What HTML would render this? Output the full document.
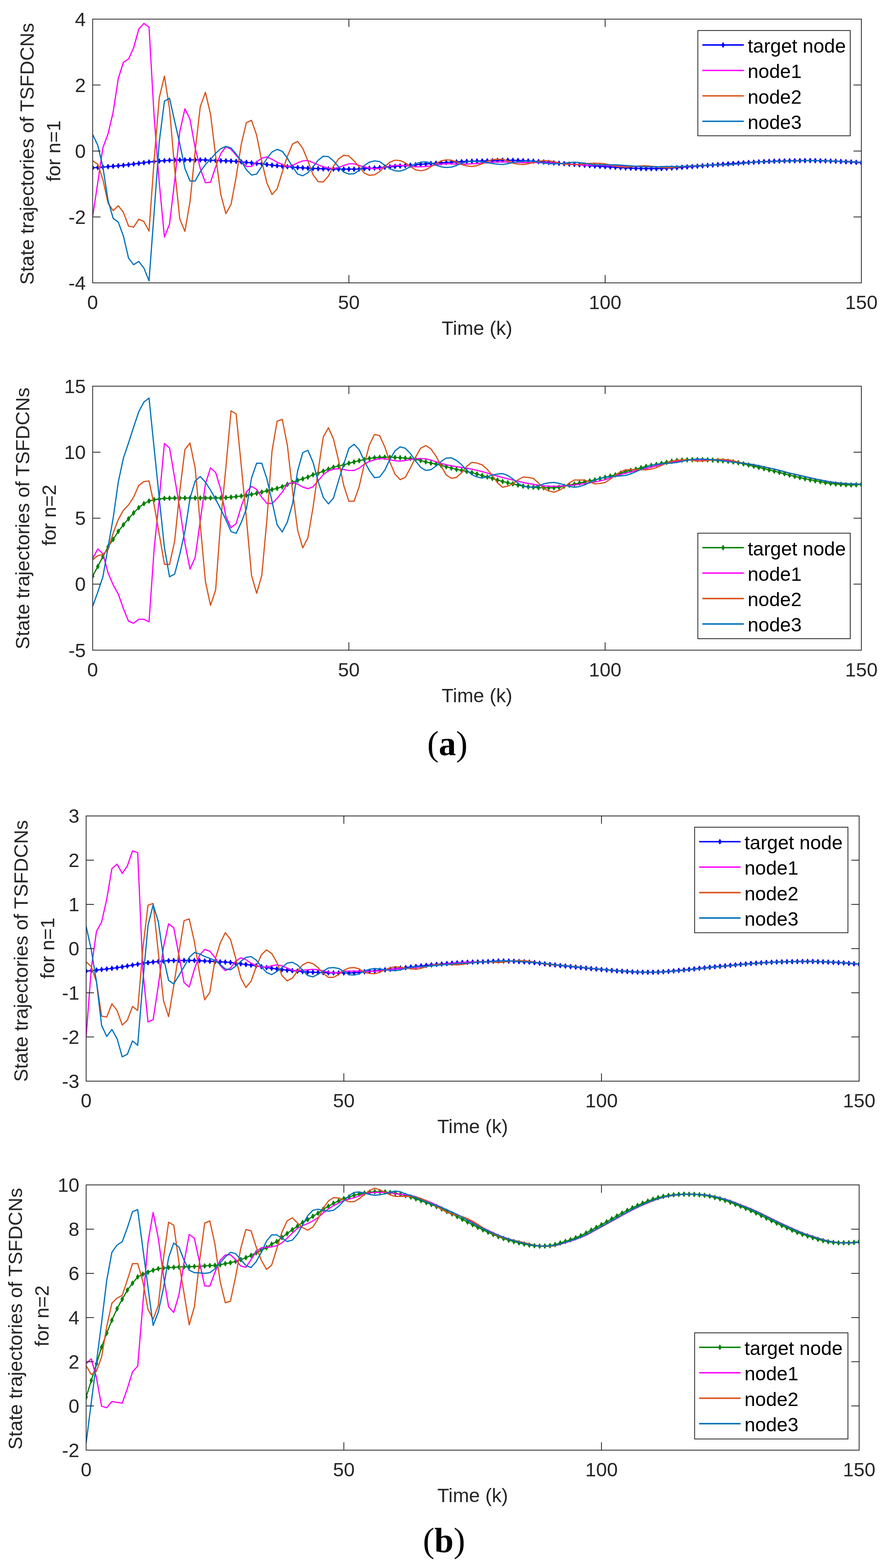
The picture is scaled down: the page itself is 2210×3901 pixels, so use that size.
<!DOCTYPE html>
<html><head><meta charset="utf-8"><title>State trajectories of TSFDCNs</title>
<style>
html,body{margin:0;padding:0;background:#fff;}
body{width:2210px;height:3901px;overflow:hidden;}
svg{display:block;}
.t{font-family:"Liberation Sans", Arial, Helvetica, sans-serif;font-size:48.5px;fill:#262626;}
.lg{font-family:"Liberation Sans", Arial, Helvetica, sans-serif;font-size:48.3px;fill:#000;}
.cap{font-family:"Liberation Serif", "Times New Roman", serif;font-size:86px;font-weight:bold;fill:#000;}
.par{font-weight:normal;}
</style></head><body>
<svg width="2210" height="3901" viewBox="0 0 2210 3901">
<rect x="0" y="0" width="2210" height="3901" fill="#ffffff"/>
<clipPath id="c0"><rect x="230.6" y="47.6" width="1913.1" height="656.1"/></clipPath>
<g clip-path="url(#c0)" fill="none" stroke-linejoin="round" stroke-linecap="butt">
<polyline points="230.6,417.5 243.4,416.7 256.1,415.7 268.9,414.6 281.6,413.5 294.4,412.4 307.1,411.2 319.9,409.7 332.6,408.0 345.4,406.4 358.1,404.8 370.9,403.1 383.6,401.9 396.4,400.7 409.2,399.7 421.9,398.8 434.7,398.2 447.4,397.9 460.2,397.8 472.9,397.8 485.7,397.8 498.4,397.8 511.2,398.1 523.9,398.6 536.7,399.2 549.5,399.8 562.2,400.2 575.0,400.7 587.7,401.6 600.5,402.7 613.2,403.9 626.0,405.2 638.7,406.4 651.5,407.6 664.2,409.3 677.0,410.9 689.7,412.2 702.5,413.4 715.3,414.7 728.0,415.8 740.8,416.7 753.5,417.5 766.3,418.4 779.0,419.1 791.8,419.6 804.5,419.9 817.3,420.3 830.0,420.6 842.8,420.8 855.5,420.8 868.3,420.8 881.1,420.8 893.8,420.4 906.6,419.6 919.3,418.7 932.1,417.9 944.8,417.0 957.6,416.0 970.3,415.0 983.1,414.0 995.8,413.0 1008.6,412.0 1021.3,410.9 1034.1,409.9 1046.9,408.8 1059.6,407.8 1072.4,406.8 1085.1,405.9 1097.9,405.1 1110.6,404.3 1123.4,403.5 1136.1,402.8 1148.9,402.2 1161.6,401.6 1174.4,401.1 1187.1,400.7 1199.9,400.5 1212.7,400.2 1225.4,399.8 1238.2,399.1 1250.9,398.6 1263.7,398.7 1276.4,399.0 1289.2,399.3 1301.9,399.8 1314.7,400.3 1327.4,400.9 1340.2,401.9 1353.0,403.0 1365.7,404.1 1378.5,405.2 1391.2,406.2 1404.0,407.2 1416.7,408.2 1429.5,409.1 1442.2,410.1 1455.0,411.0 1467.7,412.0 1480.5,412.9 1493.2,413.8 1506.0,414.6 1518.8,415.4 1531.5,416.2 1544.3,417.0 1557.0,417.7 1569.8,418.3 1582.5,418.8 1595.3,419.3 1608.0,419.5 1620.8,419.5 1633.5,419.5 1646.3,419.3 1659.0,418.7 1671.8,418.0 1684.6,417.2 1697.3,416.2 1710.1,415.3 1722.8,414.4 1735.6,413.4 1748.3,412.4 1761.1,411.4 1773.8,410.5 1786.6,409.5 1799.3,408.6 1812.1,407.7 1824.8,406.8 1837.6,405.9 1850.4,405.0 1863.1,404.2 1875.9,403.4 1888.6,402.7 1901.4,402.1 1914.1,401.5 1926.9,401.0 1939.6,400.5 1952.4,400.3 1965.1,400.1 1977.9,399.9 1990.7,399.7 2003.4,399.6 2016.2,399.6 2028.9,399.7 2041.7,400.0 2054.4,400.3 2067.2,400.8 2079.9,401.2 2092.7,401.7 2105.4,402.4 2118.2,403.1 2130.9,403.9 2143.7,404.8" stroke="#0000ff" stroke-width="3"/>
<path d="M230.6 411.4L234.2 417.5L230.6 423.6L227.0 417.5ZM243.4 410.6L247.0 416.7L243.4 422.8L239.8 416.7ZM256.1 409.6L259.7 415.7L256.1 421.8L252.5 415.7ZM268.9 408.5L272.5 414.6L268.9 420.7L265.3 414.6ZM281.6 407.4L285.2 413.5L281.6 419.6L278.0 413.5ZM294.4 406.3L298.0 412.4L294.4 418.5L290.8 412.4ZM307.1 405.1L310.7 411.2L307.1 417.3L303.5 411.2ZM319.9 403.6L323.5 409.7L319.9 415.8L316.3 409.7ZM332.6 401.9L336.2 408.0L332.6 414.1L329.0 408.0ZM345.4 400.3L349.0 406.4L345.4 412.5L341.8 406.4ZM358.1 398.7L361.7 404.8L358.1 410.9L354.5 404.8ZM370.9 397.0L374.5 403.1L370.9 409.2L367.3 403.1ZM383.6 395.8L387.2 401.9L383.6 408.0L380.0 401.9ZM396.4 394.6L400.0 400.7L396.4 406.8L392.8 400.7ZM409.2 393.6L412.8 399.7L409.2 405.8L405.6 399.7ZM421.9 392.7L425.5 398.8L421.9 404.9L418.3 398.8ZM434.7 392.1L438.3 398.2L434.7 404.3L431.1 398.2ZM447.4 391.8L451.0 397.9L447.4 404.0L443.8 397.9ZM460.2 391.7L463.8 397.8L460.2 403.9L456.6 397.8ZM472.9 391.7L476.5 397.8L472.9 403.9L469.3 397.8ZM485.7 391.7L489.3 397.8L485.7 403.9L482.1 397.8ZM498.4 391.7L502.0 397.8L498.4 403.9L494.8 397.8ZM511.2 392.0L514.8 398.1L511.2 404.2L507.6 398.1ZM523.9 392.5L527.5 398.6L523.9 404.7L520.3 398.6ZM536.7 393.1L540.3 399.2L536.7 405.3L533.1 399.2ZM549.5 393.7L553.1 399.8L549.5 405.9L545.9 399.8ZM562.2 394.1L565.8 400.2L562.2 406.3L558.6 400.2ZM575.0 394.6L578.6 400.7L575.0 406.8L571.4 400.7ZM587.7 395.5L591.3 401.6L587.7 407.7L584.1 401.6ZM600.5 396.6L604.1 402.7L600.5 408.8L596.9 402.7ZM613.2 397.8L616.8 403.9L613.2 410.0L609.6 403.9ZM626.0 399.1L629.6 405.2L626.0 411.3L622.4 405.2ZM638.7 400.3L642.3 406.4L638.7 412.5L635.1 406.4ZM651.5 401.5L655.1 407.6L651.5 413.7L647.9 407.6ZM664.2 403.2L667.8 409.3L664.2 415.4L660.6 409.3ZM677.0 404.8L680.6 410.9L677.0 417.0L673.4 410.9ZM689.7 406.1L693.3 412.2L689.7 418.3L686.1 412.2ZM702.5 407.3L706.1 413.4L702.5 419.5L698.9 413.4ZM715.3 408.6L718.9 414.7L715.3 420.8L711.7 414.7ZM728.0 409.7L731.6 415.8L728.0 421.9L724.4 415.8ZM740.8 410.6L744.4 416.7L740.8 422.8L737.2 416.7ZM753.5 411.4L757.1 417.5L753.5 423.6L749.9 417.5ZM766.3 412.3L769.9 418.4L766.3 424.5L762.7 418.4ZM779.0 413.0L782.6 419.1L779.0 425.2L775.4 419.1ZM791.8 413.5L795.4 419.6L791.8 425.7L788.2 419.6ZM804.5 413.8L808.1 419.9L804.5 426.0L800.9 419.9ZM817.3 414.2L820.9 420.3L817.3 426.4L813.7 420.3ZM830.0 414.5L833.6 420.6L830.0 426.7L826.4 420.6ZM842.8 414.7L846.4 420.8L842.8 426.9L839.2 420.8ZM855.5 414.7L859.1 420.8L855.5 426.9L851.9 420.8ZM868.3 414.7L871.9 420.8L868.3 426.9L864.7 420.8ZM881.1 414.7L884.7 420.8L881.1 426.9L877.5 420.8ZM893.8 414.3L897.4 420.4L893.8 426.5L890.2 420.4ZM906.6 413.5L910.2 419.6L906.6 425.7L903.0 419.6ZM919.3 412.6L922.9 418.7L919.3 424.8L915.7 418.7ZM932.1 411.8L935.7 417.9L932.1 424.0L928.5 417.9ZM944.8 410.9L948.4 417.0L944.8 423.1L941.2 417.0ZM957.6 409.9L961.2 416.0L957.6 422.1L954.0 416.0ZM970.3 408.9L973.9 415.0L970.3 421.1L966.7 415.0ZM983.1 407.9L986.7 414.0L983.1 420.1L979.5 414.0ZM995.8 406.9L999.4 413.0L995.8 419.1L992.2 413.0ZM1008.6 405.9L1012.2 412.0L1008.6 418.1L1005.0 412.0ZM1021.3 404.8L1024.9 410.9L1021.3 417.0L1017.7 410.9ZM1034.1 403.8L1037.7 409.9L1034.1 416.0L1030.5 409.9ZM1046.9 402.7L1050.5 408.8L1046.9 414.9L1043.3 408.8ZM1059.6 401.7L1063.2 407.8L1059.6 413.9L1056.0 407.8ZM1072.4 400.7L1076.0 406.8L1072.4 412.9L1068.8 406.8ZM1085.1 399.8L1088.7 405.9L1085.1 412.0L1081.5 405.9ZM1097.9 399.0L1101.5 405.1L1097.9 411.2L1094.3 405.1ZM1110.6 398.2L1114.2 404.3L1110.6 410.4L1107.0 404.3ZM1123.4 397.4L1127.0 403.5L1123.4 409.6L1119.8 403.5ZM1136.1 396.7L1139.7 402.8L1136.1 408.9L1132.5 402.8ZM1148.9 396.1L1152.5 402.2L1148.9 408.3L1145.3 402.2ZM1161.6 395.5L1165.2 401.6L1161.6 407.7L1158.0 401.6ZM1174.4 395.0L1178.0 401.1L1174.4 407.2L1170.8 401.1ZM1187.1 394.6L1190.7 400.7L1187.1 406.8L1183.5 400.7ZM1199.9 394.4L1203.5 400.5L1199.9 406.6L1196.3 400.5ZM1212.7 394.1L1216.3 400.2L1212.7 406.3L1209.1 400.2ZM1225.4 393.7L1229.0 399.8L1225.4 405.9L1221.8 399.8ZM1238.2 393.0L1241.8 399.1L1238.2 405.2L1234.6 399.1ZM1250.9 392.5L1254.5 398.6L1250.9 404.7L1247.3 398.6ZM1263.7 392.6L1267.3 398.7L1263.7 404.8L1260.1 398.7ZM1276.4 392.9L1280.0 399.0L1276.4 405.1L1272.8 399.0ZM1289.2 393.2L1292.8 399.3L1289.2 405.4L1285.6 399.3ZM1301.9 393.7L1305.5 399.8L1301.9 405.9L1298.3 399.8ZM1314.7 394.2L1318.3 400.3L1314.7 406.4L1311.1 400.3ZM1327.4 394.8L1331.0 400.9L1327.4 407.0L1323.8 400.9ZM1340.2 395.8L1343.8 401.9L1340.2 408.0L1336.6 401.9ZM1353.0 396.9L1356.6 403.0L1353.0 409.1L1349.4 403.0ZM1365.7 398.0L1369.3 404.1L1365.7 410.2L1362.1 404.1ZM1378.5 399.1L1382.1 405.2L1378.5 411.3L1374.9 405.2ZM1391.2 400.1L1394.8 406.2L1391.2 412.3L1387.6 406.2ZM1404.0 401.1L1407.6 407.2L1404.0 413.3L1400.4 407.2ZM1416.7 402.1L1420.3 408.2L1416.7 414.3L1413.1 408.2ZM1429.5 403.0L1433.1 409.1L1429.5 415.2L1425.9 409.1ZM1442.2 404.0L1445.8 410.1L1442.2 416.2L1438.6 410.1ZM1455.0 404.9L1458.6 411.0L1455.0 417.1L1451.4 411.0ZM1467.7 405.9L1471.3 412.0L1467.7 418.1L1464.1 412.0ZM1480.5 406.8L1484.1 412.9L1480.5 419.0L1476.9 412.9ZM1493.2 407.7L1496.8 413.8L1493.2 419.9L1489.6 413.8ZM1506.0 408.5L1509.6 414.6L1506.0 420.7L1502.4 414.6ZM1518.8 409.3L1522.4 415.4L1518.8 421.5L1515.2 415.4ZM1531.5 410.1L1535.1 416.2L1531.5 422.3L1527.9 416.2ZM1544.3 410.9L1547.9 417.0L1544.3 423.1L1540.7 417.0ZM1557.0 411.6L1560.6 417.7L1557.0 423.8L1553.4 417.7ZM1569.8 412.2L1573.4 418.3L1569.8 424.4L1566.2 418.3ZM1582.5 412.7L1586.1 418.8L1582.5 424.9L1578.9 418.8ZM1595.3 413.2L1598.9 419.3L1595.3 425.4L1591.7 419.3ZM1608.0 413.4L1611.6 419.5L1608.0 425.6L1604.4 419.5ZM1620.8 413.4L1624.4 419.5L1620.8 425.6L1617.2 419.5ZM1633.5 413.4L1637.1 419.5L1633.5 425.6L1629.9 419.5ZM1646.3 413.2L1649.9 419.3L1646.3 425.4L1642.7 419.3ZM1659.0 412.6L1662.6 418.7L1659.0 424.8L1655.4 418.7ZM1671.8 411.9L1675.4 418.0L1671.8 424.1L1668.2 418.0ZM1684.6 411.1L1688.2 417.2L1684.6 423.3L1681.0 417.2ZM1697.3 410.1L1700.9 416.2L1697.3 422.3L1693.7 416.2ZM1710.1 409.2L1713.7 415.3L1710.1 421.4L1706.5 415.3ZM1722.8 408.3L1726.4 414.4L1722.8 420.5L1719.2 414.4ZM1735.6 407.3L1739.2 413.4L1735.6 419.5L1732.0 413.4ZM1748.3 406.3L1751.9 412.4L1748.3 418.5L1744.7 412.4ZM1761.1 405.3L1764.7 411.4L1761.1 417.5L1757.5 411.4ZM1773.8 404.4L1777.4 410.5L1773.8 416.6L1770.2 410.5ZM1786.6 403.4L1790.2 409.5L1786.6 415.6L1783.0 409.5ZM1799.3 402.5L1802.9 408.6L1799.3 414.7L1795.7 408.6ZM1812.1 401.6L1815.7 407.7L1812.1 413.8L1808.5 407.7ZM1824.8 400.7L1828.4 406.8L1824.8 412.9L1821.2 406.8ZM1837.6 399.8L1841.2 405.9L1837.6 412.0L1834.0 405.9ZM1850.4 398.9L1854.0 405.0L1850.4 411.1L1846.8 405.0ZM1863.1 398.1L1866.7 404.2L1863.1 410.3L1859.5 404.2ZM1875.9 397.3L1879.5 403.4L1875.9 409.5L1872.3 403.4ZM1888.6 396.6L1892.2 402.7L1888.6 408.8L1885.0 402.7ZM1901.4 396.0L1905.0 402.1L1901.4 408.2L1897.8 402.1ZM1914.1 395.4L1917.7 401.5L1914.1 407.6L1910.5 401.5ZM1926.9 394.9L1930.5 401.0L1926.9 407.1L1923.3 401.0ZM1939.6 394.4L1943.2 400.5L1939.6 406.6L1936.0 400.5ZM1952.4 394.2L1956.0 400.3L1952.4 406.4L1948.8 400.3ZM1965.1 394.0L1968.7 400.1L1965.1 406.2L1961.5 400.1ZM1977.9 393.8L1981.5 399.9L1977.9 406.0L1974.3 399.9ZM1990.7 393.6L1994.3 399.7L1990.7 405.8L1987.1 399.7ZM2003.4 393.5L2007.0 399.6L2003.4 405.7L1999.8 399.6ZM2016.2 393.5L2019.8 399.6L2016.2 405.7L2012.6 399.6ZM2028.9 393.6L2032.5 399.7L2028.9 405.8L2025.3 399.7ZM2041.7 393.9L2045.3 400.0L2041.7 406.1L2038.1 400.0ZM2054.4 394.2L2058.0 400.3L2054.4 406.4L2050.8 400.3ZM2067.2 394.7L2070.8 400.8L2067.2 406.9L2063.6 400.8ZM2079.9 395.1L2083.5 401.2L2079.9 407.3L2076.3 401.2ZM2092.7 395.6L2096.3 401.7L2092.7 407.8L2089.1 401.7ZM2105.4 396.3L2109.0 402.4L2105.4 408.5L2101.8 402.4ZM2118.2 397.0L2121.8 403.1L2118.2 409.2L2114.6 403.1ZM2130.9 397.8L2134.5 403.9L2130.9 410.0L2127.3 403.9ZM2143.7 398.7L2147.3 404.8L2143.7 410.9L2140.1 404.8Z" fill="#0000ff" stroke="#0000ff" stroke-width="1.5"/>
<polyline points="230.6,538.9 243.4,453.6 256.1,367.4 268.9,333.0 281.6,278.9 294.4,195.2 307.1,155.0 319.9,146.8 332.6,119.0 345.4,72.2 358.1,58.3 370.9,67.3 383.6,290.4 396.4,455.2 409.2,589.7 421.9,557.7 434.7,449.5 447.4,328.1 460.2,270.7 472.9,296.9 485.7,368.3 498.4,419.1 511.2,454.4 523.9,453.6 536.7,415.0 549.5,382.2 562.2,365.0 575.0,371.5 587.7,386.3 600.5,401.1 613.2,414.2 626.0,414.2 638.7,402.7 651.5,393.7 664.2,390.4 677.0,396.2 689.7,403.5 702.5,409.3 715.3,414.2 728.0,411.7 740.8,405.2 753.5,400.3 766.3,399.4 779.0,404.4 791.8,410.1 804.5,415.0 817.3,418.3 830.0,419.1 842.8,416.7 855.5,411.7 868.3,407.6 881.1,407.6 893.8,411.7 906.6,415.0 919.3,418.3 932.1,419.9 944.8,419.1 957.6,415.8 970.3,413.4 983.1,411.7 995.8,410.9 1008.6,411.7 1021.3,413.4 1034.1,415.0 1046.9,415.0 1059.6,414.2 1072.4,412.6 1085.1,410.1 1097.9,408.5 1110.6,407.6 1123.4,407.6 1136.1,408.5 1148.9,408.5 1161.6,408.2 1174.4,407.6 1187.1,406.9 1199.9,406.0 1212.7,404.7 1225.4,403.5 1238.2,403.0 1250.9,402.7 1263.7,403.0 1276.4,403.5 1289.2,404.0 1301.9,404.4 1314.7,404.4 1327.4,404.4 1340.2,404.4 1353.0,404.4 1365.7,405.0 1378.5,406.0 1391.2,406.8 1404.0,407.6 1416.7,408.5 1429.5,409.3 1442.2,410.3 1455.0,410.9 1467.7,410.9 1480.5,410.9 1493.2,411.2 1506.0,411.7 1518.8,412.1 1531.5,412.6 1544.3,413.0 1557.0,413.4 1569.8,413.8 1582.5,414.2 1595.3,414.6 1608.0,415.0 1620.8,415.5 1633.5,415.8 1646.3,415.8 1659.0,415.8 1671.8,415.5 1684.6,415.0 1697.3,414.6 1710.1,414.2 1722.8,413.4 1735.6,412.6 1748.3,411.7 1761.1,410.9 1773.8,410.3 1786.6,410.1 1799.3,409.9 1812.1,409.4 1824.8,408.7 1837.6,407.5 1850.4,406.2 1863.1,404.8 1875.9,403.6 1888.6,402.8 1901.4,402.2 1914.1,401.9 1926.9,401.7 1939.6,401.3 1952.4,401.0 1965.1,400.6 1977.9,400.2 1990.7,399.8 2003.4,399.5 2016.2,399.4 2028.9,399.4 2041.7,399.6 2054.4,400.0 2067.2,400.5 2079.9,401.0 2092.7,401.4 2105.4,401.8 2118.2,402.3 2130.9,403.0 2143.7,403.8" stroke="#ff00ff" stroke-width="3"/>
<polyline points="230.6,400.3 243.4,408.5 256.1,447.0 268.9,505.2 281.6,524.1 294.4,511.8 307.1,528.2 319.9,562.6 332.6,565.1 345.4,545.4 358.1,551.2 370.9,574.9 383.6,397.8 396.4,242.8 409.2,189.5 421.9,270.7 434.7,420.8 447.4,544.6 460.2,575.8 472.9,501.9 485.7,375.7 498.4,265.8 511.2,229.7 523.9,283.8 536.7,388.0 549.5,483.9 562.2,531.5 575.0,508.5 587.7,440.4 600.5,358.4 613.2,305.1 626.0,299.4 638.7,336.3 651.5,401.1 664.2,455.2 677.0,483.9 689.7,470.0 702.5,428.1 715.3,388.8 728.0,358.4 740.8,351.9 753.5,369.1 766.3,400.3 779.0,434.7 791.8,451.9 804.5,452.7 817.3,438.0 830.0,413.4 842.8,395.3 855.5,386.3 868.3,388.0 881.1,400.3 893.8,415.0 906.6,430.6 919.3,436.3 932.1,434.7 944.8,427.3 957.6,414.2 970.3,403.5 983.1,398.6 995.8,399.4 1008.6,405.2 1021.3,414.2 1034.1,422.4 1046.9,424.9 1059.6,422.4 1072.4,415.0 1085.1,406.8 1097.9,400.3 1110.6,397.8 1123.4,398.6 1136.1,402.7 1148.9,409.3 1161.6,412.7 1174.4,414.2 1187.1,411.9 1199.9,407.6 1212.7,401.5 1225.4,397.0 1238.2,396.4 1250.9,396.2 1263.7,400.5 1276.4,406.0 1289.2,408.2 1301.9,409.3 1314.7,407.4 1327.4,404.4 1340.2,401.3 1353.0,399.4 1365.7,400.2 1378.5,401.9 1391.2,405.4 1404.0,408.5 1416.7,409.0 1429.5,409.3 1442.2,408.7 1455.0,407.6 1467.7,406.6 1480.5,406.0 1493.2,406.5 1506.0,407.6 1518.8,410.4 1531.5,413.4 1544.3,415.0 1557.0,415.8 1569.8,414.8 1582.5,413.4 1595.3,412.8 1608.0,412.6 1620.8,413.5 1633.5,415.0 1646.3,416.6 1659.0,417.5 1671.8,416.9 1684.6,415.8 1697.3,414.6 1710.1,413.4 1722.8,412.4 1735.6,411.7 1748.3,411.2 1761.1,410.9 1773.8,410.3 1786.6,410.1 1799.3,409.9 1812.1,409.4 1824.8,408.7 1837.6,407.5 1850.4,406.2 1863.1,404.8 1875.9,403.6 1888.6,402.8 1901.4,402.2 1914.1,401.9 1926.9,401.7 1939.6,401.3 1952.4,401.0 1965.1,400.6 1977.9,400.2 1990.7,399.8 2003.4,399.5 2016.2,399.4 2028.9,399.4 2041.7,399.6 2054.4,400.0 2067.2,400.5 2079.9,401.0 2092.7,401.4 2105.4,401.8 2118.2,402.3 2130.9,403.0 2143.7,403.8" stroke="#d95319" stroke-width="3"/>
<polyline points="230.6,334.6 243.4,361.7 256.1,415.8 268.9,498.7 281.6,543.0 294.4,552.8 307.1,587.2 319.9,642.2 332.6,658.6 345.4,650.4 358.1,666.8 370.9,698.8 383.6,528.2 396.4,352.7 409.2,251.8 421.9,244.4 434.7,301.8 447.4,357.6 460.2,419.1 472.9,450.3 485.7,450.3 498.4,427.3 511.2,409.3 523.9,396.2 536.7,381.4 549.5,369.9 562.2,364.2 575.0,368.3 587.7,383.0 600.5,401.1 613.2,422.4 626.0,435.5 638.7,433.1 651.5,414.2 664.2,394.5 677.0,378.1 689.7,371.5 702.5,376.5 715.3,393.7 728.0,415.0 740.8,433.1 753.5,437.2 766.3,429.8 779.0,415.0 791.8,398.6 804.5,388.8 817.3,389.6 830.0,400.3 842.8,415.0 855.5,428.1 868.3,433.1 881.1,432.2 893.8,424.0 906.6,411.7 919.3,403.5 932.1,400.3 944.8,401.9 957.6,410.9 970.3,419.9 983.1,424.9 995.8,425.7 1008.6,421.6 1021.3,414.2 1034.1,407.6 1046.9,403.5 1059.6,402.7 1072.4,405.2 1085.1,410.9 1097.9,415.0 1110.6,416.7 1123.4,415.8 1136.1,411.7 1148.9,406.0 1161.6,402.6 1174.4,401.1 1187.1,401.6 1199.9,402.7 1212.7,404.7 1225.4,406.8 1238.2,408.4 1250.9,409.3 1263.7,407.3 1276.4,404.4 1289.2,402.2 1301.9,401.1 1314.7,401.1 1327.4,401.1 1340.2,403.2 1353.0,406.0 1365.7,407.1 1378.5,407.6 1391.2,407.1 1404.0,406.0 1416.7,404.5 1429.5,403.5 1442.2,404.4 1455.0,406.0 1467.7,408.4 1480.5,410.1 1493.2,410.1 1506.0,410.1 1518.8,410.1 1531.5,410.1 1544.3,410.7 1557.0,411.7 1569.8,412.6 1582.5,413.4 1595.3,414.4 1608.0,415.0 1620.8,415.0 1633.5,415.0 1646.3,414.6 1659.0,414.2 1671.8,414.2 1684.6,414.2 1697.3,413.9 1710.1,413.4 1722.8,413.0 1735.6,412.6 1748.3,411.9 1761.1,410.9 1773.8,410.3 1786.6,410.1 1799.3,409.9 1812.1,409.4 1824.8,408.7 1837.6,407.5 1850.4,406.2 1863.1,404.8 1875.9,403.6 1888.6,402.8 1901.4,402.2 1914.1,401.9 1926.9,401.7 1939.6,401.3 1952.4,401.0 1965.1,400.6 1977.9,400.2 1990.7,399.8 2003.4,399.5 2016.2,399.4 2028.9,399.4 2041.7,399.6 2054.4,400.0 2067.2,400.5 2079.9,401.0 2092.7,401.4 2105.4,401.8 2118.2,402.3 2130.9,403.0 2143.7,403.8" stroke="#0072bd" stroke-width="3"/>
</g>
<rect x="230.6" y="47.6" width="1913.1" height="656.1" fill="none" stroke="#262626" stroke-width="2"/>
<path d="M868.3 703.7V684.2M868.3 47.6V67.1M1506.0 703.7V684.2M1506.0 47.6V67.1M230.6 539.7H250.1M2143.7 539.7H2124.2M230.6 375.7H250.1M2143.7 375.7H2124.2M230.6 211.6H250.1M2143.7 211.6H2124.2" stroke="#262626" stroke-width="2" fill="none"/>
<text x="230.6" y="769.2" text-anchor="middle" class="t">0</text>
<text x="868.3" y="769.2" text-anchor="middle" class="t">50</text>
<text x="1506.0" y="769.2" text-anchor="middle" class="t">100</text>
<text x="2143.7" y="769.2" text-anchor="middle" class="t">150</text>
<text x="213.6" y="720.7" text-anchor="end" class="t">-4</text>
<text x="213.6" y="556.7" text-anchor="end" class="t">-2</text>
<text x="213.6" y="392.7" text-anchor="end" class="t">0</text>
<text x="213.6" y="228.6" text-anchor="end" class="t">2</text>
<text x="213.6" y="64.6" text-anchor="end" class="t">4</text>
<text x="1187.1" y="833.2" text-anchor="middle" class="t">Time (k)</text>
<text transform="translate(83.8,382.7) rotate(-90)" text-anchor="middle" class="t">State trajectories of TSFDCNs</text>
<text transform="translate(149.8,375.7) rotate(-90)" text-anchor="middle" class="t">for n=1</text>
<rect x="1736.7" y="75.9" width="379.3" height="261.9" fill="#ffffff" stroke="#262626" stroke-width="2"/>
<line x1="1748.0" y1="111.9" x2="1851.2" y2="111.9" stroke="#0000ff" stroke-width="3.6"/>
<path d="M1799.6 105.8L1803.2 111.9L1799.6 118.0L1796.0 111.9Z" fill="#0000ff" stroke="#0000ff" stroke-width="1.5"/>
<text x="1860.7" y="130.9" class="lg">target node</text>
<line x1="1748.0" y1="175.2" x2="1851.2" y2="175.2" stroke="#ff00ff" stroke-width="3.6"/>
<text x="1860.7" y="194.2" class="lg">node1</text>
<line x1="1748.0" y1="238.5" x2="1851.2" y2="238.5" stroke="#d95319" stroke-width="3.6"/>
<text x="1860.7" y="257.5" class="lg">node2</text>
<line x1="1748.0" y1="301.8" x2="1851.2" y2="301.8" stroke="#0072bd" stroke-width="3.6"/>
<text x="1860.7" y="320.8" class="lg">node3</text>
<clipPath id="c1"><rect x="230.6" y="960.8" width="1913.1" height="656.7"/></clipPath>
<g clip-path="url(#c1)" fill="none" stroke-linejoin="round" stroke-linecap="butt">
<polyline points="230.6,1433.3 243.4,1409.3 256.1,1384.7 268.9,1360.7 281.6,1342.0 294.4,1322.0 307.1,1305.6 319.9,1290.8 332.6,1276.0 345.4,1262.9 358.1,1253.0 370.9,1246.5 383.6,1243.2 396.4,1241.5 409.2,1239.9 421.9,1239.5 434.7,1239.2 447.4,1239.0 460.2,1238.9 472.9,1238.9 485.7,1238.9 498.4,1238.9 511.2,1238.9 523.9,1238.9 536.7,1238.9 549.5,1238.9 562.2,1237.9 575.0,1236.9 587.7,1235.6 600.5,1234.1 613.2,1232.3 626.0,1230.1 638.7,1227.4 651.5,1224.2 664.2,1220.9 677.0,1218.0 689.7,1214.9 702.5,1211.0 715.3,1205.1 728.0,1200.2 740.8,1195.2 753.5,1191.3 766.3,1187.0 779.0,1181.1 791.8,1177.2 804.5,1172.3 817.3,1167.3 830.0,1162.4 842.8,1159.1 855.5,1156.5 868.3,1152.6 881.1,1149.3 893.8,1146.0 906.6,1143.4 919.3,1140.7 932.1,1138.8 944.8,1137.8 957.6,1137.5 970.3,1137.7 983.1,1138.1 995.8,1138.8 1008.6,1139.8 1021.3,1140.7 1034.1,1142.4 1046.9,1145.7 1059.6,1148.9 1072.4,1152.2 1085.1,1154.5 1097.9,1157.8 1110.6,1161.1 1123.4,1164.4 1136.1,1167.7 1148.9,1170.3 1161.6,1173.0 1174.4,1175.9 1187.1,1179.4 1199.9,1183.1 1212.7,1186.7 1225.4,1190.3 1238.2,1194.2 1250.9,1197.9 1263.7,1200.9 1276.4,1203.8 1289.2,1206.8 1301.9,1209.4 1314.7,1211.1 1327.4,1212.3 1340.2,1213.2 1353.0,1213.6 1365.7,1213.6 1378.5,1213.6 1391.2,1212.2 1404.0,1209.7 1416.7,1207.2 1429.5,1204.4 1442.2,1201.6 1455.0,1198.9 1467.7,1196.4 1480.5,1193.9 1493.2,1190.7 1506.0,1187.4 1518.8,1184.5 1531.5,1181.5 1544.3,1177.3 1557.0,1173.2 1569.8,1170.2 1582.5,1167.3 1595.3,1163.8 1608.0,1160.4 1620.8,1157.9 1633.5,1155.5 1646.3,1152.9 1659.0,1150.3 1671.8,1147.6 1684.6,1145.7 1697.3,1144.7 1710.1,1144.0 1722.8,1143.6 1735.6,1143.4 1748.3,1143.6 1761.1,1144.0 1773.8,1144.7 1786.6,1145.7 1799.3,1146.6 1812.1,1147.6 1824.8,1149.2 1837.6,1151.2 1850.4,1153.9 1863.1,1156.8 1875.9,1159.7 1888.6,1162.7 1901.4,1165.8 1914.1,1169.0 1926.9,1172.1 1939.6,1175.2 1952.4,1178.7 1965.1,1182.1 1977.9,1185.1 1990.7,1188.0 2003.4,1190.9 2016.2,1193.6 2028.9,1196.0 2041.7,1198.2 2054.4,1200.7 2067.2,1202.8 2079.9,1204.1 2092.7,1205.1 2105.4,1206.0 2118.2,1206.4 2130.9,1206.1 2143.7,1205.1" stroke="#008000" stroke-width="3"/>
<path d="M230.6 1427.2L234.2 1433.3L230.6 1439.4L227.0 1433.3ZM243.4 1403.2L247.0 1409.3L243.4 1415.4L239.8 1409.3ZM256.1 1378.6L259.7 1384.7L256.1 1390.8L252.5 1384.7ZM268.9 1354.6L272.5 1360.7L268.9 1366.8L265.3 1360.7ZM281.6 1335.9L285.2 1342.0L281.6 1348.1L278.0 1342.0ZM294.4 1315.9L298.0 1322.0L294.4 1328.1L290.8 1322.0ZM307.1 1299.5L310.7 1305.6L307.1 1311.7L303.5 1305.6ZM319.9 1284.7L323.5 1290.8L319.9 1296.9L316.3 1290.8ZM332.6 1269.9L336.2 1276.0L332.6 1282.1L329.0 1276.0ZM345.4 1256.8L349.0 1262.9L345.4 1269.0L341.8 1262.9ZM358.1 1246.9L361.7 1253.0L358.1 1259.1L354.5 1253.0ZM370.9 1240.4L374.5 1246.5L370.9 1252.6L367.3 1246.5ZM383.6 1237.1L387.2 1243.2L383.6 1249.3L380.0 1243.2ZM396.4 1235.4L400.0 1241.5L396.4 1247.6L392.8 1241.5ZM409.2 1233.8L412.8 1239.9L409.2 1246.0L405.6 1239.9ZM421.9 1233.4L425.5 1239.5L421.9 1245.6L418.3 1239.5ZM434.7 1233.1L438.3 1239.2L434.7 1245.3L431.1 1239.2ZM447.4 1232.9L451.0 1239.0L447.4 1245.1L443.8 1239.0ZM460.2 1232.8L463.8 1238.9L460.2 1245.0L456.6 1238.9ZM472.9 1232.8L476.5 1238.9L472.9 1245.0L469.3 1238.9ZM485.7 1232.8L489.3 1238.9L485.7 1245.0L482.1 1238.9ZM498.4 1232.8L502.0 1238.9L498.4 1245.0L494.8 1238.9ZM511.2 1232.8L514.8 1238.9L511.2 1245.0L507.6 1238.9ZM523.9 1232.8L527.5 1238.9L523.9 1245.0L520.3 1238.9ZM536.7 1232.8L540.3 1238.9L536.7 1245.0L533.1 1238.9ZM549.5 1232.8L553.1 1238.9L549.5 1245.0L545.9 1238.9ZM562.2 1231.8L565.8 1237.9L562.2 1244.0L558.6 1237.9ZM575.0 1230.8L578.6 1236.9L575.0 1243.0L571.4 1236.9ZM587.7 1229.5L591.3 1235.6L587.7 1241.7L584.1 1235.6ZM600.5 1228.0L604.1 1234.1L600.5 1240.2L596.9 1234.1ZM613.2 1226.2L616.8 1232.3L613.2 1238.4L609.6 1232.3ZM626.0 1224.0L629.6 1230.1L626.0 1236.2L622.4 1230.1ZM638.7 1221.3L642.3 1227.4L638.7 1233.5L635.1 1227.4ZM651.5 1218.1L655.1 1224.2L651.5 1230.3L647.9 1224.2ZM664.2 1214.8L667.8 1220.9L664.2 1227.0L660.6 1220.9ZM677.0 1211.9L680.6 1218.0L677.0 1224.1L673.4 1218.0ZM689.7 1208.8L693.3 1214.9L689.7 1221.0L686.1 1214.9ZM702.5 1204.9L706.1 1211.0L702.5 1217.1L698.9 1211.0ZM715.3 1199.0L718.9 1205.1L715.3 1211.2L711.7 1205.1ZM728.0 1194.1L731.6 1200.2L728.0 1206.3L724.4 1200.2ZM740.8 1189.1L744.4 1195.2L740.8 1201.3L737.2 1195.2ZM753.5 1185.2L757.1 1191.3L753.5 1197.4L749.9 1191.3ZM766.3 1180.9L769.9 1187.0L766.3 1193.1L762.7 1187.0ZM779.0 1175.0L782.6 1181.1L779.0 1187.2L775.4 1181.1ZM791.8 1171.1L795.4 1177.2L791.8 1183.3L788.2 1177.2ZM804.5 1166.2L808.1 1172.3L804.5 1178.4L800.9 1172.3ZM817.3 1161.2L820.9 1167.3L817.3 1173.4L813.7 1167.3ZM830.0 1156.3L833.6 1162.4L830.0 1168.5L826.4 1162.4ZM842.8 1153.0L846.4 1159.1L842.8 1165.2L839.2 1159.1ZM855.5 1150.4L859.1 1156.5L855.5 1162.6L851.9 1156.5ZM868.3 1146.5L871.9 1152.6L868.3 1158.7L864.7 1152.6ZM881.1 1143.2L884.7 1149.3L881.1 1155.4L877.5 1149.3ZM893.8 1139.9L897.4 1146.0L893.8 1152.1L890.2 1146.0ZM906.6 1137.3L910.2 1143.4L906.6 1149.5L903.0 1143.4ZM919.3 1134.6L922.9 1140.7L919.3 1146.8L915.7 1140.7ZM932.1 1132.7L935.7 1138.8L932.1 1144.9L928.5 1138.8ZM944.8 1131.7L948.4 1137.8L944.8 1143.9L941.2 1137.8ZM957.6 1131.4L961.2 1137.5L957.6 1143.6L954.0 1137.5ZM970.3 1131.6L973.9 1137.7L970.3 1143.8L966.7 1137.7ZM983.1 1132.0L986.7 1138.1L983.1 1144.2L979.5 1138.1ZM995.8 1132.7L999.4 1138.8L995.8 1144.9L992.2 1138.8ZM1008.6 1133.7L1012.2 1139.8L1008.6 1145.9L1005.0 1139.8ZM1021.3 1134.6L1024.9 1140.7L1021.3 1146.8L1017.7 1140.7ZM1034.1 1136.3L1037.7 1142.4L1034.1 1148.5L1030.5 1142.4ZM1046.9 1139.6L1050.5 1145.7L1046.9 1151.8L1043.3 1145.7ZM1059.6 1142.8L1063.2 1148.9L1059.6 1155.0L1056.0 1148.9ZM1072.4 1146.1L1076.0 1152.2L1072.4 1158.3L1068.8 1152.2ZM1085.1 1148.4L1088.7 1154.5L1085.1 1160.6L1081.5 1154.5ZM1097.9 1151.7L1101.5 1157.8L1097.9 1163.9L1094.3 1157.8ZM1110.6 1155.0L1114.2 1161.1L1110.6 1167.2L1107.0 1161.1ZM1123.4 1158.3L1127.0 1164.4L1123.4 1170.5L1119.8 1164.4ZM1136.1 1161.6L1139.7 1167.7L1136.1 1173.8L1132.5 1167.7ZM1148.9 1164.2L1152.5 1170.3L1148.9 1176.4L1145.3 1170.3ZM1161.6 1166.9L1165.2 1173.0L1161.6 1179.1L1158.0 1173.0ZM1174.4 1169.8L1178.0 1175.9L1174.4 1182.0L1170.8 1175.9ZM1187.1 1173.3L1190.7 1179.4L1187.1 1185.5L1183.5 1179.4ZM1199.9 1177.0L1203.5 1183.1L1199.9 1189.2L1196.3 1183.1ZM1212.7 1180.6L1216.3 1186.7L1212.7 1192.8L1209.1 1186.7ZM1225.4 1184.2L1229.0 1190.3L1225.4 1196.4L1221.8 1190.3ZM1238.2 1188.1L1241.8 1194.2L1238.2 1200.3L1234.6 1194.2ZM1250.9 1191.8L1254.5 1197.9L1250.9 1204.0L1247.3 1197.9ZM1263.7 1194.8L1267.3 1200.9L1263.7 1207.0L1260.1 1200.9ZM1276.4 1197.7L1280.0 1203.8L1276.4 1209.9L1272.8 1203.8ZM1289.2 1200.7L1292.8 1206.8L1289.2 1212.9L1285.6 1206.8ZM1301.9 1203.3L1305.5 1209.4L1301.9 1215.5L1298.3 1209.4ZM1314.7 1205.0L1318.3 1211.1L1314.7 1217.2L1311.1 1211.1ZM1327.4 1206.2L1331.0 1212.3L1327.4 1218.4L1323.8 1212.3ZM1340.2 1207.1L1343.8 1213.2L1340.2 1219.3L1336.6 1213.2ZM1353.0 1207.5L1356.6 1213.6L1353.0 1219.7L1349.4 1213.6ZM1365.7 1207.5L1369.3 1213.6L1365.7 1219.7L1362.1 1213.6ZM1378.5 1207.5L1382.1 1213.6L1378.5 1219.7L1374.9 1213.6ZM1391.2 1206.1L1394.8 1212.2L1391.2 1218.3L1387.6 1212.2ZM1404.0 1203.6L1407.6 1209.7L1404.0 1215.8L1400.4 1209.7ZM1416.7 1201.1L1420.3 1207.2L1416.7 1213.3L1413.1 1207.2ZM1429.5 1198.3L1433.1 1204.4L1429.5 1210.5L1425.9 1204.4ZM1442.2 1195.5L1445.8 1201.6L1442.2 1207.7L1438.6 1201.6ZM1455.0 1192.8L1458.6 1198.9L1455.0 1205.0L1451.4 1198.9ZM1467.7 1190.3L1471.3 1196.4L1467.7 1202.5L1464.1 1196.4ZM1480.5 1187.8L1484.1 1193.9L1480.5 1200.0L1476.9 1193.9ZM1493.2 1184.6L1496.8 1190.7L1493.2 1196.8L1489.6 1190.7ZM1506.0 1181.3L1509.6 1187.4L1506.0 1193.5L1502.4 1187.4ZM1518.8 1178.4L1522.4 1184.5L1518.8 1190.6L1515.2 1184.5ZM1531.5 1175.4L1535.1 1181.5L1531.5 1187.6L1527.9 1181.5ZM1544.3 1171.2L1547.9 1177.3L1544.3 1183.4L1540.7 1177.3ZM1557.0 1167.1L1560.6 1173.2L1557.0 1179.3L1553.4 1173.2ZM1569.8 1164.1L1573.4 1170.2L1569.8 1176.3L1566.2 1170.2ZM1582.5 1161.2L1586.1 1167.3L1582.5 1173.4L1578.9 1167.3ZM1595.3 1157.7L1598.9 1163.8L1595.3 1169.9L1591.7 1163.8ZM1608.0 1154.3L1611.6 1160.4L1608.0 1166.5L1604.4 1160.4ZM1620.8 1151.8L1624.4 1157.9L1620.8 1164.0L1617.2 1157.9ZM1633.5 1149.4L1637.1 1155.5L1633.5 1161.6L1629.9 1155.5ZM1646.3 1146.8L1649.9 1152.9L1646.3 1159.0L1642.7 1152.9ZM1659.0 1144.2L1662.6 1150.3L1659.0 1156.4L1655.4 1150.3ZM1671.8 1141.5L1675.4 1147.6L1671.8 1153.7L1668.2 1147.6ZM1684.6 1139.6L1688.2 1145.7L1684.6 1151.8L1681.0 1145.7ZM1697.3 1138.6L1700.9 1144.7L1697.3 1150.8L1693.7 1144.7ZM1710.1 1137.9L1713.7 1144.0L1710.1 1150.1L1706.5 1144.0ZM1722.8 1137.5L1726.4 1143.6L1722.8 1149.7L1719.2 1143.6ZM1735.6 1137.3L1739.2 1143.4L1735.6 1149.5L1732.0 1143.4ZM1748.3 1137.5L1751.9 1143.6L1748.3 1149.7L1744.7 1143.6ZM1761.1 1137.9L1764.7 1144.0L1761.1 1150.1L1757.5 1144.0ZM1773.8 1138.6L1777.4 1144.7L1773.8 1150.8L1770.2 1144.7ZM1786.6 1139.6L1790.2 1145.7L1786.6 1151.8L1783.0 1145.7ZM1799.3 1140.5L1802.9 1146.6L1799.3 1152.7L1795.7 1146.6ZM1812.1 1141.5L1815.7 1147.6L1812.1 1153.7L1808.5 1147.6ZM1824.8 1143.1L1828.4 1149.2L1824.8 1155.3L1821.2 1149.2ZM1837.6 1145.1L1841.2 1151.2L1837.6 1157.3L1834.0 1151.2ZM1850.4 1147.8L1854.0 1153.9L1850.4 1160.0L1846.8 1153.9ZM1863.1 1150.7L1866.7 1156.8L1863.1 1162.9L1859.5 1156.8ZM1875.9 1153.6L1879.5 1159.7L1875.9 1165.8L1872.3 1159.7ZM1888.6 1156.6L1892.2 1162.7L1888.6 1168.8L1885.0 1162.7ZM1901.4 1159.7L1905.0 1165.8L1901.4 1171.9L1897.8 1165.8ZM1914.1 1162.9L1917.7 1169.0L1914.1 1175.1L1910.5 1169.0ZM1926.9 1166.0L1930.5 1172.1L1926.9 1178.2L1923.3 1172.1ZM1939.6 1169.1L1943.2 1175.2L1939.6 1181.3L1936.0 1175.2ZM1952.4 1172.6L1956.0 1178.7L1952.4 1184.8L1948.8 1178.7ZM1965.1 1176.0L1968.7 1182.1L1965.1 1188.2L1961.5 1182.1ZM1977.9 1179.0L1981.5 1185.1L1977.9 1191.2L1974.3 1185.1ZM1990.7 1181.9L1994.3 1188.0L1990.7 1194.1L1987.1 1188.0ZM2003.4 1184.8L2007.0 1190.9L2003.4 1197.0L1999.8 1190.9ZM2016.2 1187.5L2019.8 1193.6L2016.2 1199.7L2012.6 1193.6ZM2028.9 1189.9L2032.5 1196.0L2028.9 1202.1L2025.3 1196.0ZM2041.7 1192.1L2045.3 1198.2L2041.7 1204.3L2038.1 1198.2ZM2054.4 1194.6L2058.0 1200.7L2054.4 1206.8L2050.8 1200.7ZM2067.2 1196.7L2070.8 1202.8L2067.2 1208.9L2063.6 1202.8ZM2079.9 1198.0L2083.5 1204.1L2079.9 1210.2L2076.3 1204.1ZM2092.7 1199.0L2096.3 1205.1L2092.7 1211.2L2089.1 1205.1ZM2105.4 1199.9L2109.0 1206.0L2105.4 1212.1L2101.8 1206.0ZM2118.2 1200.3L2121.8 1206.4L2118.2 1212.5L2114.6 1206.4ZM2130.9 1200.0L2134.5 1206.1L2130.9 1212.2L2127.3 1206.1ZM2143.7 1199.0L2147.3 1205.1L2143.7 1211.2L2140.1 1205.1Z" fill="#008000" stroke="#008000" stroke-width="1.5"/>
<polyline points="230.6,1389.6 243.4,1365.7 256.1,1377.5 268.9,1425.1 281.6,1455.0 294.4,1478.0 307.1,1514.1 319.9,1545.6 332.6,1550.5 345.4,1540.7 358.1,1540.7 370.9,1547.2 383.6,1365.7 396.4,1239.9 409.2,1103.3 421.9,1114.1 434.7,1189.0 447.4,1264.9 460.2,1351.5 472.9,1415.9 485.7,1387.0 498.4,1295.7 511.2,1204.4 523.9,1164.0 536.7,1175.5 549.5,1217.6 562.2,1284.9 575.0,1312.8 587.7,1302.3 600.5,1259.6 613.2,1224.1 626.0,1210.0 638.7,1217.6 651.5,1237.3 664.2,1252.0 677.0,1253.0 689.7,1239.9 702.5,1224.1 715.3,1204.4 728.0,1200.2 740.8,1204.4 753.5,1211.7 766.3,1215.9 779.0,1211.0 791.8,1196.2 804.5,1181.1 817.3,1171.3 830.0,1167.3 842.8,1166.0 855.5,1168.0 868.3,1170.6 881.1,1170.6 893.8,1164.7 906.6,1154.9 919.3,1148.0 932.1,1144.0 944.8,1140.7 957.6,1141.4 970.3,1144.0 983.1,1146.3 995.8,1147.3 1008.6,1145.7 1021.3,1143.0 1034.1,1141.4 1046.9,1140.7 1059.6,1141.4 1072.4,1144.7 1085.1,1148.9 1097.9,1152.9 1110.6,1156.2 1123.4,1158.8 1136.1,1161.1 1148.9,1163.1 1161.6,1165.1 1174.4,1167.3 1187.1,1170.1 1199.9,1173.2 1212.7,1176.9 1225.4,1180.8 1238.2,1184.5 1250.9,1188.0 1263.7,1191.2 1276.4,1194.3 1289.2,1197.3 1301.9,1200.2 1314.7,1202.8 1327.4,1205.1 1340.2,1207.2 1353.0,1208.7 1365.7,1209.6 1378.5,1210.0 1391.2,1209.6 1404.0,1208.7 1416.7,1207.7 1429.5,1206.4 1442.2,1204.7 1455.0,1202.8 1467.7,1200.9 1480.5,1198.9 1493.2,1196.4 1506.0,1193.3 1518.8,1188.8 1531.5,1184.1 1544.3,1180.4 1557.0,1177.2 1569.8,1174.1 1582.5,1171.3 1595.3,1168.5 1608.0,1165.7 1620.8,1162.3 1633.5,1158.8 1646.3,1155.7 1659.0,1152.9 1671.8,1150.4 1684.6,1148.3 1697.3,1146.4 1710.1,1145.0 1722.8,1144.1 1735.6,1143.7 1748.3,1143.7 1761.1,1143.7 1773.8,1144.2 1786.6,1145.0 1799.3,1145.4 1812.1,1146.0 1824.8,1148.0 1837.6,1150.6 1850.4,1152.4 1863.1,1154.2 1875.9,1156.4 1888.6,1158.8 1901.4,1161.5 1914.1,1164.4 1926.9,1167.3 1939.6,1170.3 1952.4,1173.8 1965.1,1177.2 1977.9,1180.0 1990.7,1182.8 2003.4,1185.7 2016.2,1188.7 2028.9,1191.6 2041.7,1194.3 2054.4,1196.7 2067.2,1198.9 2079.9,1200.7 2092.7,1202.1 2105.4,1203.1 2118.2,1203.8 2130.9,1204.2 2143.7,1204.4" stroke="#ff00ff" stroke-width="3"/>
<polyline points="230.6,1392.9 243.4,1382.4 256.1,1379.1 268.9,1367.3 281.6,1326.3 294.4,1292.4 307.1,1269.4 319.9,1256.3 332.6,1236.6 345.4,1207.7 358.1,1198.2 370.9,1196.6 383.6,1256.3 396.4,1329.5 409.2,1403.7 421.9,1404.4 434.7,1346.0 447.4,1222.2 460.2,1118.4 472.9,1102.3 485.7,1164.4 498.4,1304.6 511.2,1446.4 523.9,1505.9 536.7,1467.8 549.5,1293.1 562.2,1162.4 575.0,1022.2 587.7,1029.8 600.5,1159.1 613.2,1289.2 626.0,1431.7 638.7,1476.0 651.5,1431.7 664.2,1293.1 677.0,1122.0 689.7,1047.8 702.5,1043.5 715.3,1108.6 728.0,1220.9 740.8,1319.4 753.5,1363.0 766.3,1337.7 779.0,1262.9 791.8,1170.9 804.5,1087.2 817.3,1064.2 830.0,1092.1 842.8,1146.6 855.5,1207.7 868.3,1247.1 881.1,1247.1 893.8,1211.0 906.6,1154.9 919.3,1106.9 932.1,1080.6 944.8,1083.9 957.6,1111.8 970.3,1149.6 983.1,1179.5 995.8,1193.3 1008.6,1187.7 1021.3,1164.4 1034.1,1137.5 1046.9,1115.1 1059.6,1108.6 1072.4,1116.8 1085.1,1134.8 1097.9,1159.5 1110.6,1181.8 1123.4,1190.0 1136.1,1187.7 1148.9,1175.9 1161.6,1160.0 1174.4,1150.3 1187.1,1152.1 1199.9,1156.5 1212.7,1167.6 1225.4,1183.1 1238.2,1201.2 1250.9,1212.3 1263.7,1209.5 1276.4,1203.8 1289.2,1193.8 1301.9,1186.7 1314.7,1187.7 1327.4,1190.3 1340.2,1201.7 1353.0,1214.9 1365.7,1221.4 1378.5,1224.5 1391.2,1220.2 1404.0,1212.3 1416.7,1201.5 1429.5,1194.3 1442.2,1194.3 1455.0,1194.3 1467.7,1199.0 1480.5,1203.8 1493.2,1202.7 1506.0,1200.2 1518.8,1192.1 1531.5,1181.8 1544.3,1173.7 1557.0,1169.0 1569.8,1168.3 1582.5,1168.0 1595.3,1168.5 1608.0,1169.0 1620.8,1167.1 1633.5,1163.4 1646.3,1157.8 1659.0,1151.9 1671.8,1147.7 1684.6,1145.0 1697.3,1144.1 1710.1,1143.7 1722.8,1145.5 1735.6,1147.3 1748.3,1146.9 1761.1,1146.0 1773.8,1144.1 1786.6,1142.7 1799.3,1143.0 1812.1,1143.7 1824.8,1146.2 1837.6,1149.6 1850.4,1152.0 1863.1,1154.2 1875.9,1156.4 1888.6,1158.8 1901.4,1161.5 1914.1,1164.4 1926.9,1167.3 1939.6,1170.3 1952.4,1173.8 1965.1,1177.2 1977.9,1180.0 1990.7,1182.8 2003.4,1185.7 2016.2,1188.7 2028.9,1191.6 2041.7,1194.3 2054.4,1196.7 2067.2,1198.9 2079.9,1200.7 2092.7,1202.1 2105.4,1203.1 2118.2,1203.8 2130.9,1204.2 2143.7,1204.4" stroke="#d95319" stroke-width="3"/>
<polyline points="230.6,1508.5 243.4,1473.0 256.1,1434.9 268.9,1361.4 281.6,1289.2 294.4,1199.2 307.1,1139.8 319.9,1102.0 332.6,1062.3 345.4,1024.2 358.1,1000.2 370.9,990.4 383.6,1115.1 396.4,1239.9 409.2,1362.4 421.9,1434.9 434.7,1428.4 447.4,1379.1 460.2,1322.0 472.9,1239.9 485.7,1196.9 498.4,1185.4 511.2,1199.5 523.9,1219.2 536.7,1242.2 549.5,1266.8 562.2,1293.1 575.0,1322.6 587.7,1326.9 600.5,1299.7 613.2,1266.2 626.0,1189.3 638.7,1152.6 651.5,1152.6 664.2,1191.3 677.0,1247.1 689.7,1305.6 702.5,1323.6 715.3,1298.0 728.0,1253.7 740.8,1171.3 753.5,1126.0 766.3,1120.4 779.0,1149.9 791.8,1197.9 804.5,1237.3 817.3,1253.7 830.0,1238.9 842.8,1194.6 855.5,1154.9 868.3,1115.5 881.1,1105.3 893.8,1118.7 906.6,1146.6 919.3,1170.9 932.1,1188.3 944.8,1186.7 957.6,1169.6 970.3,1143.0 983.1,1121.7 995.8,1111.8 1008.6,1115.1 1021.3,1128.3 1034.1,1146.3 1046.9,1162.7 1059.6,1170.3 1072.4,1168.6 1085.1,1159.5 1097.9,1148.0 1110.6,1139.8 1123.4,1139.1 1136.1,1145.7 1148.9,1156.2 1161.6,1169.7 1174.4,1180.8 1187.1,1186.6 1199.9,1189.3 1212.7,1186.2 1225.4,1181.8 1238.2,1179.4 1250.9,1178.2 1263.7,1183.0 1276.4,1191.6 1289.2,1202.3 1301.9,1210.0 1314.7,1211.7 1327.4,1212.3 1340.2,1208.7 1353.0,1203.8 1365.7,1201.3 1378.5,1200.2 1391.2,1202.5 1404.0,1206.4 1416.7,1210.1 1429.5,1212.3 1442.2,1210.4 1455.0,1206.4 1467.7,1200.4 1480.5,1194.3 1493.2,1190.1 1506.0,1187.4 1518.8,1186.1 1531.5,1185.1 1544.3,1184.1 1557.0,1182.8 1569.8,1179.0 1582.5,1173.6 1595.3,1167.6 1608.0,1162.1 1620.8,1158.0 1633.5,1155.2 1646.3,1153.9 1659.0,1152.9 1671.8,1151.9 1684.6,1150.6 1697.3,1147.9 1710.1,1145.0 1722.8,1143.0 1735.6,1142.0 1748.3,1142.2 1761.1,1142.7 1773.8,1143.6 1786.6,1145.0 1799.3,1146.6 1812.1,1148.3 1824.8,1149.8 1837.6,1151.2 1850.4,1152.6 1863.1,1154.2 1875.9,1156.3 1888.6,1158.8 1901.4,1161.5 1914.1,1164.4 1926.9,1167.3 1939.6,1170.3 1952.4,1173.8 1965.1,1177.2 1977.9,1180.0 1990.7,1182.8 2003.4,1185.7 2016.2,1188.7 2028.9,1191.6 2041.7,1194.3 2054.4,1196.7 2067.2,1198.9 2079.9,1200.7 2092.7,1202.1 2105.4,1203.1 2118.2,1203.8 2130.9,1204.2 2143.7,1204.4" stroke="#0072bd" stroke-width="3"/>
</g>
<rect x="230.6" y="960.8" width="1913.1" height="656.7" fill="none" stroke="#262626" stroke-width="2"/>
<path d="M868.3 1617.5V1598.0M868.3 960.8V980.3M1506.0 1617.5V1598.0M1506.0 960.8V980.3M230.6 1453.3H250.1M2143.7 1453.3H2124.2M230.6 1289.2H250.1M2143.7 1289.2H2124.2M230.6 1125.0H250.1M2143.7 1125.0H2124.2" stroke="#262626" stroke-width="2" fill="none"/>
<text x="230.6" y="1683.0" text-anchor="middle" class="t">0</text>
<text x="868.3" y="1683.0" text-anchor="middle" class="t">50</text>
<text x="1506.0" y="1683.0" text-anchor="middle" class="t">100</text>
<text x="2143.7" y="1683.0" text-anchor="middle" class="t">150</text>
<text x="213.6" y="1634.5" text-anchor="end" class="t">-5</text>
<text x="213.6" y="1470.3" text-anchor="end" class="t">0</text>
<text x="213.6" y="1306.2" text-anchor="end" class="t">5</text>
<text x="213.6" y="1142.0" text-anchor="end" class="t">10</text>
<text x="213.6" y="977.8" text-anchor="end" class="t">15</text>
<text x="1187.1" y="1747.0" text-anchor="middle" class="t">Time (k)</text>
<text transform="translate(72.8,1289.7) rotate(-90)" text-anchor="middle" class="t">State trajectories of TSFDCNs</text>
<text transform="translate(138.8,1281.7) rotate(-90)" text-anchor="middle" class="t">for n=2</text>
<rect x="1736.7" y="1326.5" width="379.3" height="262.5" fill="#ffffff" stroke="#262626" stroke-width="2"/>
<line x1="1748.0" y1="1362.5" x2="1851.2" y2="1362.5" stroke="#008000" stroke-width="3.6"/>
<path d="M1799.6 1356.4L1803.2 1362.5L1799.6 1368.6L1796.0 1362.5Z" fill="#008000" stroke="#008000" stroke-width="1.5"/>
<text x="1860.7" y="1381.5" class="lg">target node</text>
<line x1="1748.0" y1="1425.8" x2="1851.2" y2="1425.8" stroke="#ff00ff" stroke-width="3.6"/>
<text x="1860.7" y="1444.8" class="lg">node1</text>
<line x1="1748.0" y1="1489.1" x2="1851.2" y2="1489.1" stroke="#d95319" stroke-width="3.6"/>
<text x="1860.7" y="1508.1" class="lg">node2</text>
<line x1="1748.0" y1="1552.4" x2="1851.2" y2="1552.4" stroke="#0072bd" stroke-width="3.6"/>
<text x="1860.7" y="1571.4" class="lg">node3</text>
<clipPath id="c2"><rect x="214.4" y="2030.0" width="1923.7999999999997" height="659.8000000000002"/></clipPath>
<g clip-path="url(#c2)" fill="none" stroke-linejoin="round" stroke-linecap="butt">
<polyline points="214.4,2416.0 227.2,2414.9 240.1,2413.6 252.9,2412.1 265.7,2410.7 278.5,2409.2 291.4,2407.5 304.2,2405.5 317.0,2403.3 329.8,2401.1 342.7,2398.9 355.5,2396.7 368.3,2395.1 381.1,2393.4 394.0,2392.1 406.8,2391.0 419.6,2390.1 432.4,2389.8 445.3,2389.6 458.1,2389.6 470.9,2389.6 483.7,2389.6 496.6,2390.0 509.4,2390.7 522.2,2391.5 535.0,2392.3 547.9,2392.9 560.7,2393.4 573.5,2394.6 586.3,2396.2 599.2,2397.8 612.0,2399.5 624.8,2401.1 637.6,2402.8 650.5,2405.0 663.3,2407.2 676.1,2408.9 688.9,2410.5 701.8,2412.2 714.6,2413.8 727.4,2414.9 740.2,2416.0 753.1,2417.2 765.9,2418.2 778.7,2418.8 791.5,2419.3 804.4,2419.8 817.2,2420.2 830.0,2420.4 842.8,2420.4 855.7,2420.4 868.5,2420.4 881.3,2419.9 894.1,2418.8 907.0,2417.6 919.8,2416.5 932.6,2415.3 945.4,2414.0 958.3,2412.7 971.1,2411.4 983.9,2410.0 996.7,2408.6 1009.6,2407.2 1022.4,2405.8 1035.2,2404.4 1048.0,2403.0 1060.9,2401.7 1073.7,2400.5 1086.5,2399.3 1099.3,2398.3 1112.2,2397.3 1125.0,2396.3 1137.8,2395.4 1150.6,2394.6 1163.5,2394.0 1176.3,2393.5 1189.1,2393.2 1202.0,2392.8 1214.8,2392.3 1227.6,2391.4 1240.4,2390.7 1253.3,2390.8 1266.1,2391.1 1278.9,2391.6 1291.7,2392.2 1304.6,2392.9 1317.4,2393.8 1330.2,2395.1 1343.0,2396.5 1355.9,2398.1 1368.7,2399.5 1381.5,2400.8 1394.3,2402.2 1407.2,2403.5 1420.0,2404.8 1432.8,2406.1 1445.6,2407.3 1458.5,2408.6 1471.3,2409.8 1484.1,2411.0 1496.9,2412.1 1509.8,2413.2 1522.6,2414.3 1535.4,2415.4 1548.2,2416.3 1561.1,2417.1 1573.9,2417.8 1586.7,2418.5 1599.5,2418.7 1612.4,2418.7 1625.2,2418.7 1638.0,2418.4 1650.8,2417.6 1663.7,2416.7 1676.5,2415.6 1689.3,2414.3 1702.1,2413.1 1715.0,2411.8 1727.8,2410.5 1740.6,2409.1 1753.4,2407.8 1766.3,2406.6 1779.1,2405.3 1791.9,2404.1 1804.7,2402.9 1817.6,2401.7 1830.4,2400.5 1843.2,2399.3 1856.0,2398.2 1868.9,2397.1 1881.7,2396.2 1894.5,2395.4 1907.3,2394.6 1920.2,2393.9 1933.0,2393.3 1945.8,2392.9 1958.6,2392.6 1971.5,2392.4 1984.3,2392.2 1997.1,2392.1 2009.9,2392.0 2022.8,2392.1 2035.6,2392.5 2048.4,2393.0 2061.2,2393.6 2074.1,2394.2 2086.9,2394.9 2099.7,2395.7 2112.5,2396.7 2125.4,2397.8 2138.2,2398.9" stroke="#0000ff" stroke-width="3"/>
<path d="M214.4 2409.9L218.0 2416.0L214.4 2422.1L210.8 2416.0ZM227.2 2408.8L230.8 2414.9L227.2 2421.0L223.6 2414.9ZM240.1 2407.5L243.7 2413.6L240.1 2419.7L236.5 2413.6ZM252.9 2406.0L256.5 2412.1L252.9 2418.2L249.3 2412.1ZM265.7 2404.6L269.3 2410.7L265.7 2416.8L262.1 2410.7ZM278.5 2403.1L282.1 2409.2L278.5 2415.3L274.9 2409.2ZM291.4 2401.4L295.0 2407.5L291.4 2413.6L287.8 2407.5ZM304.2 2399.4L307.8 2405.5L304.2 2411.6L300.6 2405.5ZM317.0 2397.2L320.6 2403.3L317.0 2409.4L313.4 2403.3ZM329.8 2395.0L333.4 2401.1L329.8 2407.2L326.2 2401.1ZM342.7 2392.8L346.3 2398.9L342.7 2405.0L339.1 2398.9ZM355.5 2390.6L359.1 2396.7L355.5 2402.8L351.9 2396.7ZM368.3 2389.0L371.9 2395.1L368.3 2401.2L364.7 2395.1ZM381.1 2387.3L384.7 2393.4L381.1 2399.5L377.5 2393.4ZM394.0 2386.0L397.6 2392.1L394.0 2398.2L390.4 2392.1ZM406.8 2384.9L410.4 2391.0L406.8 2397.1L403.2 2391.0ZM419.6 2384.0L423.2 2390.1L419.6 2396.2L416.0 2390.1ZM432.4 2383.7L436.0 2389.8L432.4 2395.9L428.8 2389.8ZM445.3 2383.5L448.9 2389.6L445.3 2395.7L441.7 2389.6ZM458.1 2383.5L461.7 2389.6L458.1 2395.7L454.5 2389.6ZM470.9 2383.5L474.5 2389.6L470.9 2395.7L467.3 2389.6ZM483.7 2383.5L487.3 2389.6L483.7 2395.7L480.1 2389.6ZM496.6 2383.9L500.2 2390.0L496.6 2396.1L493.0 2390.0ZM509.4 2384.6L513.0 2390.7L509.4 2396.8L505.8 2390.7ZM522.2 2385.4L525.8 2391.5L522.2 2397.6L518.6 2391.5ZM535.0 2386.2L538.6 2392.3L535.0 2398.4L531.4 2392.3ZM547.9 2386.8L551.5 2392.9L547.9 2399.0L544.3 2392.9ZM560.7 2387.3L564.3 2393.4L560.7 2399.5L557.1 2393.4ZM573.5 2388.5L577.1 2394.6L573.5 2400.7L569.9 2394.6ZM586.3 2390.1L589.9 2396.2L586.3 2402.3L582.7 2396.2ZM599.2 2391.7L602.8 2397.8L599.2 2403.9L595.6 2397.8ZM612.0 2393.4L615.6 2399.5L612.0 2405.6L608.4 2399.5ZM624.8 2395.0L628.4 2401.1L624.8 2407.2L621.2 2401.1ZM637.6 2396.7L641.2 2402.8L637.6 2408.9L634.0 2402.8ZM650.5 2398.9L654.1 2405.0L650.5 2411.1L646.9 2405.0ZM663.3 2401.1L666.9 2407.2L663.3 2413.3L659.7 2407.2ZM676.1 2402.8L679.7 2408.9L676.1 2415.0L672.5 2408.9ZM688.9 2404.4L692.5 2410.5L688.9 2416.6L685.3 2410.5ZM701.8 2406.1L705.4 2412.2L701.8 2418.3L698.2 2412.2ZM714.6 2407.7L718.2 2413.8L714.6 2419.9L711.0 2413.8ZM727.4 2408.8L731.0 2414.9L727.4 2421.0L723.8 2414.9ZM740.2 2409.9L743.8 2416.0L740.2 2422.1L736.6 2416.0ZM753.1 2411.1L756.7 2417.2L753.1 2423.3L749.5 2417.2ZM765.9 2412.1L769.5 2418.2L765.9 2424.3L762.3 2418.2ZM778.7 2412.7L782.3 2418.8L778.7 2424.9L775.1 2418.8ZM791.5 2413.2L795.1 2419.3L791.5 2425.4L787.9 2419.3ZM804.4 2413.7L808.0 2419.8L804.4 2425.9L800.8 2419.8ZM817.2 2414.1L820.8 2420.2L817.2 2426.3L813.6 2420.2ZM830.0 2414.3L833.6 2420.4L830.0 2426.5L826.4 2420.4ZM842.8 2414.3L846.4 2420.4L842.8 2426.5L839.2 2420.4ZM855.7 2414.3L859.3 2420.4L855.7 2426.5L852.1 2420.4ZM868.5 2414.3L872.1 2420.4L868.5 2426.5L864.9 2420.4ZM881.3 2413.8L884.9 2419.9L881.3 2426.0L877.7 2419.9ZM894.1 2412.7L897.7 2418.8L894.1 2424.9L890.5 2418.8ZM907.0 2411.5L910.6 2417.6L907.0 2423.7L903.4 2417.6ZM919.8 2410.4L923.4 2416.5L919.8 2422.6L916.2 2416.5ZM932.6 2409.2L936.2 2415.3L932.6 2421.4L929.0 2415.3ZM945.4 2407.9L949.0 2414.0L945.4 2420.1L941.8 2414.0ZM958.3 2406.6L961.9 2412.7L958.3 2418.8L954.7 2412.7ZM971.1 2405.3L974.7 2411.4L971.1 2417.5L967.5 2411.4ZM983.9 2403.9L987.5 2410.0L983.9 2416.1L980.3 2410.0ZM996.7 2402.5L1000.3 2408.6L996.7 2414.7L993.1 2408.6ZM1009.6 2401.1L1013.2 2407.2L1009.6 2413.3L1006.0 2407.2ZM1022.4 2399.7L1026.0 2405.8L1022.4 2411.9L1018.8 2405.8ZM1035.2 2398.3L1038.8 2404.4L1035.2 2410.5L1031.6 2404.4ZM1048.0 2396.9L1051.6 2403.0L1048.0 2409.1L1044.4 2403.0ZM1060.9 2395.6L1064.5 2401.7L1060.9 2407.8L1057.3 2401.7ZM1073.7 2394.4L1077.3 2400.5L1073.7 2406.6L1070.1 2400.5ZM1086.5 2393.2L1090.1 2399.3L1086.5 2405.4L1082.9 2399.3ZM1099.3 2392.2L1102.9 2398.3L1099.3 2404.4L1095.7 2398.3ZM1112.2 2391.2L1115.8 2397.3L1112.2 2403.4L1108.6 2397.3ZM1125.0 2390.2L1128.6 2396.3L1125.0 2402.4L1121.4 2396.3ZM1137.8 2389.3L1141.4 2395.4L1137.8 2401.5L1134.2 2395.4ZM1150.6 2388.5L1154.2 2394.6L1150.6 2400.7L1147.0 2394.6ZM1163.5 2387.9L1167.1 2394.0L1163.5 2400.1L1159.9 2394.0ZM1176.3 2387.4L1179.9 2393.5L1176.3 2399.6L1172.7 2393.5ZM1189.1 2387.1L1192.7 2393.2L1189.1 2399.3L1185.5 2393.2ZM1202.0 2386.7L1205.6 2392.8L1202.0 2398.9L1198.4 2392.8ZM1214.8 2386.2L1218.4 2392.3L1214.8 2398.4L1211.2 2392.3ZM1227.6 2385.3L1231.2 2391.4L1227.6 2397.5L1224.0 2391.4ZM1240.4 2384.6L1244.0 2390.7L1240.4 2396.8L1236.8 2390.7ZM1253.3 2384.7L1256.9 2390.8L1253.3 2396.9L1249.7 2390.8ZM1266.1 2385.0L1269.7 2391.1L1266.1 2397.2L1262.5 2391.1ZM1278.9 2385.5L1282.5 2391.6L1278.9 2397.7L1275.3 2391.6ZM1291.7 2386.1L1295.3 2392.2L1291.7 2398.3L1288.1 2392.2ZM1304.6 2386.8L1308.2 2392.9L1304.6 2399.0L1301.0 2392.9ZM1317.4 2387.7L1321.0 2393.8L1317.4 2399.9L1313.8 2393.8ZM1330.2 2389.0L1333.8 2395.1L1330.2 2401.2L1326.6 2395.1ZM1343.0 2390.4L1346.6 2396.5L1343.0 2402.6L1339.4 2396.5ZM1355.9 2392.0L1359.5 2398.1L1355.9 2404.2L1352.3 2398.1ZM1368.7 2393.4L1372.3 2399.5L1368.7 2405.6L1365.1 2399.5ZM1381.5 2394.7L1385.1 2400.8L1381.5 2406.9L1377.9 2400.8ZM1394.3 2396.1L1397.9 2402.2L1394.3 2408.3L1390.7 2402.2ZM1407.2 2397.4L1410.8 2403.5L1407.2 2409.6L1403.6 2403.5ZM1420.0 2398.7L1423.6 2404.8L1420.0 2410.9L1416.4 2404.8ZM1432.8 2400.0L1436.4 2406.1L1432.8 2412.2L1429.2 2406.1ZM1445.6 2401.2L1449.2 2407.3L1445.6 2413.4L1442.0 2407.3ZM1458.5 2402.5L1462.1 2408.6L1458.5 2414.7L1454.9 2408.6ZM1471.3 2403.7L1474.9 2409.8L1471.3 2415.9L1467.7 2409.8ZM1484.1 2404.9L1487.7 2411.0L1484.1 2417.1L1480.5 2411.0ZM1496.9 2406.0L1500.5 2412.1L1496.9 2418.2L1493.3 2412.1ZM1509.8 2407.1L1513.4 2413.2L1509.8 2419.3L1506.2 2413.2ZM1522.6 2408.2L1526.2 2414.3L1522.6 2420.4L1519.0 2414.3ZM1535.4 2409.3L1539.0 2415.4L1535.4 2421.5L1531.8 2415.4ZM1548.2 2410.2L1551.8 2416.3L1548.2 2422.4L1544.6 2416.3ZM1561.1 2411.0L1564.7 2417.1L1561.1 2423.2L1557.5 2417.1ZM1573.9 2411.7L1577.5 2417.8L1573.9 2423.9L1570.3 2417.8ZM1586.7 2412.4L1590.3 2418.5L1586.7 2424.6L1583.1 2418.5ZM1599.5 2412.6L1603.1 2418.7L1599.5 2424.8L1595.9 2418.7ZM1612.4 2412.6L1616.0 2418.7L1612.4 2424.8L1608.8 2418.7ZM1625.2 2412.6L1628.8 2418.7L1625.2 2424.8L1621.6 2418.7ZM1638.0 2412.3L1641.6 2418.4L1638.0 2424.5L1634.4 2418.4ZM1650.8 2411.5L1654.4 2417.6L1650.8 2423.7L1647.2 2417.6ZM1663.7 2410.6L1667.3 2416.7L1663.7 2422.8L1660.1 2416.7ZM1676.5 2409.5L1680.1 2415.6L1676.5 2421.7L1672.9 2415.6ZM1689.3 2408.2L1692.9 2414.3L1689.3 2420.4L1685.7 2414.3ZM1702.1 2407.0L1705.7 2413.1L1702.1 2419.2L1698.5 2413.1ZM1715.0 2405.7L1718.6 2411.8L1715.0 2417.9L1711.4 2411.8ZM1727.8 2404.4L1731.4 2410.5L1727.8 2416.6L1724.2 2410.5ZM1740.6 2403.0L1744.2 2409.1L1740.6 2415.2L1737.0 2409.1ZM1753.4 2401.7L1757.0 2407.8L1753.4 2413.9L1749.8 2407.8ZM1766.3 2400.5L1769.9 2406.6L1766.3 2412.7L1762.7 2406.6ZM1779.1 2399.2L1782.7 2405.3L1779.1 2411.4L1775.5 2405.3ZM1791.9 2398.0L1795.5 2404.1L1791.9 2410.2L1788.3 2404.1ZM1804.7 2396.8L1808.3 2402.9L1804.7 2409.0L1801.1 2402.9ZM1817.6 2395.6L1821.2 2401.7L1817.6 2407.8L1814.0 2401.7ZM1830.4 2394.4L1834.0 2400.5L1830.4 2406.6L1826.8 2400.5ZM1843.2 2393.2L1846.8 2399.3L1843.2 2405.4L1839.6 2399.3ZM1856.0 2392.1L1859.6 2398.2L1856.0 2404.3L1852.4 2398.2ZM1868.9 2391.0L1872.5 2397.1L1868.9 2403.2L1865.3 2397.1ZM1881.7 2390.1L1885.3 2396.2L1881.7 2402.3L1878.1 2396.2ZM1894.5 2389.3L1898.1 2395.4L1894.5 2401.5L1890.9 2395.4ZM1907.3 2388.5L1910.9 2394.6L1907.3 2400.7L1903.7 2394.6ZM1920.2 2387.8L1923.8 2393.9L1920.2 2400.0L1916.6 2393.9ZM1933.0 2387.2L1936.6 2393.3L1933.0 2399.4L1929.4 2393.3ZM1945.8 2386.8L1949.4 2392.9L1945.8 2399.0L1942.2 2392.9ZM1958.6 2386.5L1962.2 2392.6L1958.6 2398.7L1955.0 2392.6ZM1971.5 2386.3L1975.1 2392.4L1971.5 2398.5L1967.9 2392.4ZM1984.3 2386.1L1987.9 2392.2L1984.3 2398.3L1980.7 2392.2ZM1997.1 2386.0L2000.7 2392.1L1997.1 2398.2L1993.5 2392.1ZM2009.9 2385.9L2013.5 2392.0L2009.9 2398.1L2006.3 2392.0ZM2022.8 2386.0L2026.4 2392.1L2022.8 2398.2L2019.2 2392.1ZM2035.6 2386.4L2039.2 2392.5L2035.6 2398.6L2032.0 2392.5ZM2048.4 2386.9L2052.0 2393.0L2048.4 2399.1L2044.8 2393.0ZM2061.2 2387.5L2064.8 2393.6L2061.2 2399.7L2057.6 2393.6ZM2074.1 2388.1L2077.7 2394.2L2074.1 2400.3L2070.5 2394.2ZM2086.9 2388.8L2090.5 2394.9L2086.9 2401.0L2083.3 2394.9ZM2099.7 2389.6L2103.3 2395.7L2099.7 2401.8L2096.1 2395.7ZM2112.5 2390.6L2116.1 2396.7L2112.5 2402.8L2108.9 2396.7ZM2125.4 2391.7L2129.0 2397.8L2125.4 2403.9L2121.8 2397.8ZM2138.2 2392.8L2141.8 2398.9L2138.2 2405.0L2134.6 2398.9Z" fill="#0000ff" stroke="#0000ff" stroke-width="1.5"/>
<polyline points="214.4,2578.7 227.2,2409.4 240.1,2317.0 252.9,2293.9 265.7,2236.7 278.5,2160.9 291.4,2149.9 304.2,2173.0 317.0,2154.3 329.8,2116.9 342.7,2121.3 355.5,2414.9 368.3,2542.4 381.1,2536.9 394.0,2452.3 406.8,2356.6 419.6,2298.3 432.4,2308.2 445.3,2376.4 458.1,2444.6 470.9,2455.6 483.7,2411.6 496.6,2376.4 509.4,2362.1 522.2,2366.5 535.0,2381.9 547.9,2401.7 560.7,2414.9 573.5,2408.3 586.3,2391.8 599.2,2383.0 612.0,2387.4 624.8,2396.2 637.6,2402.8 650.5,2406.1 663.3,2406.1 676.1,2402.8 688.9,2400.6 701.8,2402.8 714.6,2408.3 727.4,2413.8 740.2,2414.9 753.1,2413.8 765.9,2412.7 778.7,2411.6 791.5,2412.7 804.4,2416.0 817.2,2418.2 830.0,2420.4 842.8,2419.3 855.7,2417.1 868.5,2416.0 881.3,2416.0 894.1,2416.0 907.0,2417.1 919.8,2416.7 932.6,2416.0 945.4,2415.0 958.3,2413.8 971.1,2412.0 983.9,2410.5 996.7,2409.9 1009.6,2409.4 1022.4,2408.4 1035.2,2407.2 1048.0,2405.6 1060.9,2403.9 1073.7,2402.2 1086.5,2400.6 1099.3,2399.3 1112.2,2398.0 1125.0,2396.8 1137.8,2395.7 1150.6,2394.8 1163.5,2394.1 1176.3,2393.7 1189.1,2393.4 1202.0,2393.2 1214.8,2392.8 1227.6,2392.1 1240.4,2391.0 1253.3,2390.7 1266.1,2390.8 1278.9,2391.2 1291.7,2391.8 1304.6,2392.5 1317.4,2393.2 1330.2,2394.3 1343.0,2395.7 1355.9,2397.2 1368.7,2398.7 1381.5,2400.0 1394.3,2401.3 1407.2,2402.7 1420.0,2404.0 1432.8,2405.3 1445.6,2406.6 1458.5,2407.9 1471.3,2409.1 1484.1,2410.3 1496.9,2411.5 1509.8,2412.6 1522.6,2413.7 1535.4,2414.7 1548.2,2415.7 1561.1,2416.6 1573.9,2417.4 1586.7,2418.1 1599.5,2418.6 1612.4,2418.7 1625.2,2418.7 1638.0,2418.7 1650.8,2418.1 1663.7,2417.3 1676.5,2416.3 1689.3,2415.1 1702.1,2413.9 1715.0,2412.6 1727.8,2411.3 1740.6,2409.9 1753.4,2408.6 1766.3,2407.3 1779.1,2406.1 1791.9,2404.8 1804.7,2403.6 1817.6,2402.4 1830.4,2401.2 1843.2,2400.0 1856.0,2398.8 1868.9,2397.7 1881.7,2396.7 1894.5,2395.9 1907.3,2395.0 1920.2,2394.3 1933.0,2393.6 1945.8,2393.1 1958.6,2392.8 1971.5,2392.5 1984.3,2392.3 1997.1,2392.1 2009.9,2392.0 2022.8,2392.0 2035.6,2392.3 2048.4,2392.7 2061.2,2393.2 2074.1,2393.8 2086.9,2394.5 2099.7,2395.2 2112.5,2396.1 2125.4,2397.1 2138.2,2398.2" stroke="#ff00ff" stroke-width="3"/>
<polyline points="214.4,2392.9 227.2,2405.0 240.1,2442.4 252.9,2528.1 265.7,2530.3 278.5,2497.4 291.4,2513.9 304.2,2550.1 317.0,2538.0 329.8,2504.0 342.7,2513.9 355.5,2359.9 368.3,2252.1 381.1,2247.7 394.0,2369.8 406.8,2488.6 419.6,2529.2 432.4,2452.3 445.3,2369.8 458.1,2290.6 470.9,2286.2 483.7,2342.3 496.6,2421.5 509.4,2487.5 522.2,2468.8 535.0,2388.5 547.9,2346.7 560.7,2320.3 573.5,2336.8 586.3,2383.0 599.2,2432.5 612.0,2456.7 624.8,2441.3 637.6,2405.0 650.5,2375.3 663.3,2363.2 676.1,2372.0 688.9,2394.0 701.8,2427.0 714.6,2440.2 727.4,2433.6 740.2,2416.0 753.1,2400.6 765.9,2394.0 778.7,2397.3 791.5,2407.2 804.4,2421.5 817.2,2431.4 830.0,2431.4 842.8,2424.8 855.7,2413.8 868.5,2408.3 881.3,2407.2 894.1,2410.5 907.0,2419.3 919.8,2421.7 932.6,2422.6 945.4,2418.7 958.3,2412.7 971.1,2407.8 983.9,2405.0 996.7,2406.2 1009.6,2408.3 1022.4,2410.3 1035.2,2411.6 1048.0,2409.0 1060.9,2405.0 1073.7,2401.5 1086.5,2399.5 1099.3,2399.5 1112.2,2399.5 1125.0,2400.0 1137.8,2400.6 1150.6,2399.4 1163.5,2397.3 1176.3,2394.6 1189.1,2392.9 1202.0,2392.9 1214.8,2392.9 1227.6,2393.6 1240.4,2395.1 1253.3,2393.6 1266.1,2391.9 1278.9,2390.5 1291.7,2389.9 1304.6,2390.3 1317.4,2391.6 1330.2,2393.7 1343.0,2396.1 1355.9,2398.2 1368.7,2399.8 1381.5,2400.9 1394.3,2401.6 1407.2,2402.4 1420.0,2403.4 1432.8,2404.7 1445.6,2406.1 1458.5,2407.7 1471.3,2409.2 1484.1,2410.6 1496.9,2411.8 1509.8,2412.8 1522.6,2413.8 1535.4,2414.7 1548.2,2415.6 1561.1,2416.5 1573.9,2417.2 1586.7,2418.1 1599.5,2418.7 1612.4,2418.8 1625.2,2418.8 1638.0,2418.7 1650.8,2418.1 1663.7,2417.3 1676.5,2416.2 1689.3,2415.0 1702.1,2413.8 1715.0,2412.6 1727.8,2411.3 1740.6,2410.0 1753.4,2408.6 1766.3,2407.4 1779.1,2406.1 1791.9,2404.8 1804.7,2403.6 1817.6,2402.4 1830.4,2401.2 1843.2,2400.0 1856.0,2398.8 1868.9,2397.7 1881.7,2396.7 1894.5,2395.9 1907.3,2395.0 1920.2,2394.3 1933.0,2393.6 1945.8,2393.1 1958.6,2392.8 1971.5,2392.5 1984.3,2392.3 1997.1,2392.1 2009.9,2392.0 2022.8,2392.0 2035.6,2392.3 2048.4,2392.7 2061.2,2393.2 2074.1,2393.8 2086.9,2394.5 2099.7,2395.2 2112.5,2396.1 2125.4,2397.1 2138.2,2398.2" stroke="#d95319" stroke-width="3"/>
<polyline points="214.4,2304.9 227.2,2363.2 240.1,2442.4 252.9,2551.2 265.7,2578.7 278.5,2561.1 291.4,2584.2 304.2,2629.3 317.0,2622.7 329.8,2589.7 342.7,2600.7 355.5,2442.4 368.3,2302.7 381.1,2251.0 394.0,2292.8 406.8,2381.9 419.6,2439.1 432.4,2447.9 445.3,2427.0 458.1,2405.0 470.9,2381.9 483.7,2369.8 496.6,2373.1 509.4,2379.7 522.2,2384.1 535.0,2389.6 547.9,2399.5 560.7,2410.5 573.5,2412.7 586.3,2403.9 599.2,2391.8 612.0,2381.9 624.8,2379.7 637.6,2388.5 650.5,2405.0 663.3,2419.3 676.1,2424.8 688.9,2417.1 701.8,2407.2 714.6,2396.2 727.4,2394.0 740.2,2400.6 753.1,2413.8 765.9,2427.0 778.7,2430.3 791.5,2423.7 804.4,2416.0 817.2,2408.3 830.0,2407.2 842.8,2409.4 855.7,2417.1 868.5,2424.8 881.3,2425.9 894.1,2422.6 907.0,2416.0 919.8,2411.5 932.6,2409.4 945.4,2410.7 958.3,2412.7 971.1,2414.1 983.9,2414.9 996.7,2412.7 1009.6,2409.4 1022.4,2406.8 1035.2,2405.0 1048.0,2404.4 1060.9,2403.9 1073.7,2402.9 1086.5,2401.7 1099.3,2400.6 1112.2,2399.5 1125.0,2398.3 1137.8,2397.3 1150.6,2396.7 1163.5,2396.2 1176.3,2395.2 1189.1,2394.0 1202.0,2393.5 1214.8,2392.8 1227.6,2391.9 1240.4,2390.7 1253.3,2390.4 1266.1,2390.7 1278.9,2391.3 1291.7,2391.9 1304.6,2392.7 1317.4,2393.4 1330.2,2394.4 1343.0,2395.7 1355.9,2397.1 1368.7,2398.6 1381.5,2399.9 1394.3,2401.3 1407.2,2402.7 1420.0,2404.0 1432.8,2405.4 1445.6,2406.6 1458.5,2407.9 1471.3,2409.1 1484.1,2410.3 1496.9,2411.4 1509.8,2412.5 1522.6,2413.7 1535.4,2414.7 1548.2,2415.8 1561.1,2416.6 1573.9,2417.4 1586.7,2418.1 1599.5,2418.6 1612.4,2418.7 1625.2,2418.7 1638.0,2418.7 1650.8,2418.1 1663.7,2417.3 1676.5,2416.3 1689.3,2415.1 1702.1,2413.9 1715.0,2412.6 1727.8,2411.3 1740.6,2409.9 1753.4,2408.6 1766.3,2407.3 1779.1,2406.1 1791.9,2404.8 1804.7,2403.6 1817.6,2402.4 1830.4,2401.2 1843.2,2400.0 1856.0,2398.8 1868.9,2397.7 1881.7,2396.7 1894.5,2395.9 1907.3,2395.0 1920.2,2394.3 1933.0,2393.6 1945.8,2393.1 1958.6,2392.8 1971.5,2392.5 1984.3,2392.3 1997.1,2392.1 2009.9,2392.0 2022.8,2392.0 2035.6,2392.3 2048.4,2392.7 2061.2,2393.2 2074.1,2393.8 2086.9,2394.5 2099.7,2395.2 2112.5,2396.1 2125.4,2397.1 2138.2,2398.2" stroke="#0072bd" stroke-width="3"/>
</g>
<rect x="214.4" y="2030.0" width="1923.7999999999997" height="659.8000000000002" fill="none" stroke="#262626" stroke-width="2"/>
<path d="M855.7 2689.8V2670.3M855.7 2030.0V2049.5M1496.9 2689.8V2670.3M1496.9 2030.0V2049.5M214.4 2579.8H233.9M2138.2 2579.8H2118.7M214.4 2469.9H233.9M2138.2 2469.9H2118.7M214.4 2359.9H233.9M2138.2 2359.9H2118.7M214.4 2249.9H233.9M2138.2 2249.9H2118.7M214.4 2140.0H233.9M2138.2 2140.0H2118.7" stroke="#262626" stroke-width="2" fill="none"/>
<text x="214.4" y="2755.3" text-anchor="middle" class="t">0</text>
<text x="855.7" y="2755.3" text-anchor="middle" class="t">50</text>
<text x="1496.9" y="2755.3" text-anchor="middle" class="t">100</text>
<text x="2138.2" y="2755.3" text-anchor="middle" class="t">150</text>
<text x="197.4" y="2706.8" text-anchor="end" class="t">-3</text>
<text x="197.4" y="2596.8" text-anchor="end" class="t">-2</text>
<text x="197.4" y="2486.9" text-anchor="end" class="t">-1</text>
<text x="197.4" y="2376.9" text-anchor="end" class="t">0</text>
<text x="197.4" y="2266.9" text-anchor="end" class="t">1</text>
<text x="197.4" y="2157.0" text-anchor="end" class="t">2</text>
<text x="197.4" y="2047.0" text-anchor="end" class="t">3</text>
<text x="1176.3" y="2819.3" text-anchor="middle" class="t">Time (k)</text>
<text transform="translate(68.6,2365.9) rotate(-90)" text-anchor="middle" class="t">State trajectories of TSFDCNs</text>
<text transform="translate(134.6,2358.9) rotate(-90)" text-anchor="middle" class="t">for n=1</text>
<rect x="1728.7" y="2058" width="381.6" height="262.5" fill="#ffffff" stroke="#262626" stroke-width="2"/>
<line x1="1740.0" y1="2094.0" x2="1843.2" y2="2094.0" stroke="#0000ff" stroke-width="3.6"/>
<path d="M1791.6 2087.9L1795.2 2094.0L1791.6 2100.1L1788.0 2094.0Z" fill="#0000ff" stroke="#0000ff" stroke-width="1.5"/>
<text x="1852.7" y="2113.0" class="lg">target node</text>
<line x1="1740.0" y1="2157.3" x2="1843.2" y2="2157.3" stroke="#ff00ff" stroke-width="3.6"/>
<text x="1852.7" y="2176.3" class="lg">node1</text>
<line x1="1740.0" y1="2220.6" x2="1843.2" y2="2220.6" stroke="#d95319" stroke-width="3.6"/>
<text x="1852.7" y="2239.6" class="lg">node2</text>
<line x1="1740.0" y1="2283.9" x2="1843.2" y2="2283.9" stroke="#0072bd" stroke-width="3.6"/>
<text x="1852.7" y="2302.9" class="lg">node3</text>
<clipPath id="c3"><rect x="214.4" y="2947.9" width="1923.7999999999997" height="659.9000000000001"/></clipPath>
<g clip-path="url(#c3)" fill="none" stroke-linejoin="round" stroke-linecap="butt">
<polyline points="214.4,3475.8 227.2,3434.6 240.1,3392.8 252.9,3351.5 265.7,3316.3 278.5,3284.4 291.4,3255.9 304.2,3232.2 317.0,3209.7 329.8,3192.6 342.7,3176.7 355.5,3170.1 368.3,3165.1 381.1,3160.2 394.0,3156.3 406.8,3154.7 419.6,3153.6 432.4,3153.0 445.3,3151.9 458.1,3151.6 470.9,3151.4 483.7,3150.9 496.6,3150.3 509.4,3149.4 522.2,3148.6 535.0,3148.1 547.9,3146.4 560.7,3143.7 573.5,3141.5 586.3,3138.2 599.2,3133.8 612.0,3128.8 624.8,3123.3 637.6,3116.7 650.5,3110.7 663.3,3104.1 676.1,3095.3 688.9,3088.7 701.8,3078.8 714.6,3068.9 727.4,3059.5 740.2,3050.7 753.1,3041.4 765.9,3034.2 778.7,3026.0 791.5,3018.3 804.4,3008.4 817.2,3001.2 830.0,2993.5 842.8,2988.0 855.7,2982.0 868.5,2978.1 881.3,2973.7 894.1,2970.4 907.0,2968.2 919.8,2966.1 932.6,2964.9 945.4,2965.1 958.3,2965.5 971.1,2966.7 983.9,2968.8 996.7,2971.2 1009.6,2974.3 1022.4,2978.1 1035.2,2982.5 1048.0,2987.1 1060.9,2991.9 1073.7,2996.7 1086.5,3001.8 1099.3,3007.7 1112.2,3013.9 1125.0,3020.1 1137.8,3026.5 1150.6,3033.4 1163.5,3040.3 1176.3,3047.0 1189.1,3053.5 1202.0,3059.7 1214.8,3065.6 1227.6,3071.3 1240.4,3076.6 1253.3,3081.3 1266.1,3085.4 1278.9,3088.9 1291.7,3092.0 1304.6,3095.0 1317.4,3097.5 1330.2,3099.3 1343.0,3100.2 1355.9,3099.9 1368.7,3099.1 1381.5,3096.5 1394.3,3092.5 1407.2,3088.6 1420.0,3084.3 1432.8,3079.6 1445.6,3074.4 1458.5,3067.8 1471.3,3060.6 1484.1,3053.8 1496.9,3046.9 1509.8,3039.8 1522.6,3032.6 1535.4,3025.4 1548.2,3018.3 1561.1,3011.5 1573.9,3005.1 1586.7,2999.1 1599.5,2993.5 1612.4,2988.3 1625.2,2983.6 1638.0,2979.7 1650.8,2976.5 1663.7,2974.2 1676.5,2972.6 1689.3,2971.5 1702.1,2971.0 1715.0,2971.2 1727.8,2971.5 1740.6,2972.4 1753.4,2973.7 1766.3,2976.1 1779.1,2979.2 1791.9,2982.6 1804.7,2986.4 1817.6,2991.1 1830.4,2996.3 1843.2,3001.1 1856.0,3006.2 1868.9,3011.8 1881.7,3017.7 1894.5,3024.0 1907.3,3030.4 1920.2,3036.8 1933.0,3043.0 1945.8,3048.9 1958.6,3054.6 1971.5,3060.6 1984.3,3066.1 1997.1,3070.7 2009.9,3074.9 2022.8,3079.2 2035.6,3083.2 2048.4,3086.6 2061.2,3089.2 2074.1,3091.1 2086.9,3092.0 2099.7,3092.0 2112.5,3092.0 2125.4,3091.1 2138.2,3089.2" stroke="#008000" stroke-width="3"/>
<path d="M214.4 3469.7L218.0 3475.8L214.4 3481.9L210.8 3475.8ZM227.2 3428.5L230.8 3434.6L227.2 3440.7L223.6 3434.6ZM240.1 3386.7L243.7 3392.8L240.1 3398.9L236.5 3392.8ZM252.9 3345.4L256.5 3351.5L252.9 3357.6L249.3 3351.5ZM265.7 3310.2L269.3 3316.3L265.7 3322.4L262.1 3316.3ZM278.5 3278.3L282.1 3284.4L278.5 3290.5L274.9 3284.4ZM291.4 3249.8L295.0 3255.9L291.4 3262.0L287.8 3255.9ZM304.2 3226.1L307.8 3232.2L304.2 3238.3L300.6 3232.2ZM317.0 3203.6L320.6 3209.7L317.0 3215.8L313.4 3209.7ZM329.8 3186.5L333.4 3192.6L329.8 3198.7L326.2 3192.6ZM342.7 3170.6L346.3 3176.7L342.7 3182.8L339.1 3176.7ZM355.5 3164.0L359.1 3170.1L355.5 3176.2L351.9 3170.1ZM368.3 3159.0L371.9 3165.1L368.3 3171.2L364.7 3165.1ZM381.1 3154.1L384.7 3160.2L381.1 3166.3L377.5 3160.2ZM394.0 3150.2L397.6 3156.3L394.0 3162.4L390.4 3156.3ZM406.8 3148.6L410.4 3154.7L406.8 3160.8L403.2 3154.7ZM419.6 3147.5L423.2 3153.6L419.6 3159.7L416.0 3153.6ZM432.4 3146.9L436.0 3153.0L432.4 3159.1L428.8 3153.0ZM445.3 3145.8L448.9 3151.9L445.3 3158.0L441.7 3151.9ZM458.1 3145.5L461.7 3151.6L458.1 3157.7L454.5 3151.6ZM470.9 3145.3L474.5 3151.4L470.9 3157.5L467.3 3151.4ZM483.7 3144.8L487.3 3150.9L483.7 3157.0L480.1 3150.9ZM496.6 3144.2L500.2 3150.3L496.6 3156.4L493.0 3150.3ZM509.4 3143.3L513.0 3149.4L509.4 3155.5L505.8 3149.4ZM522.2 3142.5L525.8 3148.6L522.2 3154.7L518.6 3148.6ZM535.0 3142.0L538.6 3148.1L535.0 3154.2L531.4 3148.1ZM547.9 3140.3L551.5 3146.4L547.9 3152.5L544.3 3146.4ZM560.7 3137.6L564.3 3143.7L560.7 3149.8L557.1 3143.7ZM573.5 3135.4L577.1 3141.5L573.5 3147.6L569.9 3141.5ZM586.3 3132.1L589.9 3138.2L586.3 3144.3L582.7 3138.2ZM599.2 3127.7L602.8 3133.8L599.2 3139.9L595.6 3133.8ZM612.0 3122.7L615.6 3128.8L612.0 3134.9L608.4 3128.8ZM624.8 3117.2L628.4 3123.3L624.8 3129.4L621.2 3123.3ZM637.6 3110.6L641.2 3116.7L637.6 3122.8L634.0 3116.7ZM650.5 3104.6L654.1 3110.7L650.5 3116.8L646.9 3110.7ZM663.3 3098.0L666.9 3104.1L663.3 3110.2L659.7 3104.1ZM676.1 3089.2L679.7 3095.3L676.1 3101.4L672.5 3095.3ZM688.9 3082.6L692.5 3088.7L688.9 3094.8L685.3 3088.7ZM701.8 3072.7L705.4 3078.8L701.8 3084.9L698.2 3078.8ZM714.6 3062.8L718.2 3068.9L714.6 3075.0L711.0 3068.9ZM727.4 3053.4L731.0 3059.5L727.4 3065.6L723.8 3059.5ZM740.2 3044.6L743.8 3050.7L740.2 3056.8L736.6 3050.7ZM753.1 3035.3L756.7 3041.4L753.1 3047.5L749.5 3041.4ZM765.9 3028.1L769.5 3034.2L765.9 3040.3L762.3 3034.2ZM778.7 3019.9L782.3 3026.0L778.7 3032.1L775.1 3026.0ZM791.5 3012.2L795.1 3018.3L791.5 3024.4L787.9 3018.3ZM804.4 3002.3L808.0 3008.4L804.4 3014.5L800.8 3008.4ZM817.2 2995.1L820.8 3001.2L817.2 3007.3L813.6 3001.2ZM830.0 2987.4L833.6 2993.5L830.0 2999.6L826.4 2993.5ZM842.8 2981.9L846.4 2988.0L842.8 2994.1L839.2 2988.0ZM855.7 2975.9L859.3 2982.0L855.7 2988.1L852.1 2982.0ZM868.5 2972.0L872.1 2978.1L868.5 2984.2L864.9 2978.1ZM881.3 2967.6L884.9 2973.7L881.3 2979.8L877.7 2973.7ZM894.1 2964.3L897.7 2970.4L894.1 2976.5L890.5 2970.4ZM907.0 2962.1L910.6 2968.2L907.0 2974.3L903.4 2968.2ZM919.8 2960.0L923.4 2966.1L919.8 2972.2L916.2 2966.1ZM932.6 2958.8L936.2 2964.9L932.6 2971.0L929.0 2964.9ZM945.4 2959.0L949.0 2965.1L945.4 2971.2L941.8 2965.1ZM958.3 2959.4L961.9 2965.5L958.3 2971.6L954.7 2965.5ZM971.1 2960.6L974.7 2966.7L971.1 2972.8L967.5 2966.7ZM983.9 2962.7L987.5 2968.8L983.9 2974.9L980.3 2968.8ZM996.7 2965.1L1000.3 2971.2L996.7 2977.3L993.1 2971.2ZM1009.6 2968.2L1013.2 2974.3L1009.6 2980.4L1006.0 2974.3ZM1022.4 2972.0L1026.0 2978.1L1022.4 2984.2L1018.8 2978.1ZM1035.2 2976.4L1038.8 2982.5L1035.2 2988.6L1031.6 2982.5ZM1048.0 2981.0L1051.6 2987.1L1048.0 2993.2L1044.4 2987.1ZM1060.9 2985.8L1064.5 2991.9L1060.9 2998.0L1057.3 2991.9ZM1073.7 2990.6L1077.3 2996.7L1073.7 3002.8L1070.1 2996.7ZM1086.5 2995.7L1090.1 3001.8L1086.5 3007.9L1082.9 3001.8ZM1099.3 3001.6L1102.9 3007.7L1099.3 3013.8L1095.7 3007.7ZM1112.2 3007.8L1115.8 3013.9L1112.2 3020.0L1108.6 3013.9ZM1125.0 3014.0L1128.6 3020.1L1125.0 3026.2L1121.4 3020.1ZM1137.8 3020.4L1141.4 3026.5L1137.8 3032.6L1134.2 3026.5ZM1150.6 3027.3L1154.2 3033.4L1150.6 3039.5L1147.0 3033.4ZM1163.5 3034.2L1167.1 3040.3L1163.5 3046.4L1159.9 3040.3ZM1176.3 3040.9L1179.9 3047.0L1176.3 3053.1L1172.7 3047.0ZM1189.1 3047.4L1192.7 3053.5L1189.1 3059.6L1185.5 3053.5ZM1202.0 3053.6L1205.6 3059.7L1202.0 3065.8L1198.4 3059.7ZM1214.8 3059.5L1218.4 3065.6L1214.8 3071.7L1211.2 3065.6ZM1227.6 3065.2L1231.2 3071.3L1227.6 3077.4L1224.0 3071.3ZM1240.4 3070.5L1244.0 3076.6L1240.4 3082.7L1236.8 3076.6ZM1253.3 3075.2L1256.9 3081.3L1253.3 3087.4L1249.7 3081.3ZM1266.1 3079.3L1269.7 3085.4L1266.1 3091.5L1262.5 3085.4ZM1278.9 3082.8L1282.5 3088.9L1278.9 3095.0L1275.3 3088.9ZM1291.7 3085.9L1295.3 3092.0L1291.7 3098.1L1288.1 3092.0ZM1304.6 3088.9L1308.2 3095.0L1304.6 3101.1L1301.0 3095.0ZM1317.4 3091.4L1321.0 3097.5L1317.4 3103.6L1313.8 3097.5ZM1330.2 3093.2L1333.8 3099.3L1330.2 3105.4L1326.6 3099.3ZM1343.0 3094.1L1346.6 3100.2L1343.0 3106.3L1339.4 3100.2ZM1355.9 3093.8L1359.5 3099.9L1355.9 3106.0L1352.3 3099.9ZM1368.7 3093.0L1372.3 3099.1L1368.7 3105.2L1365.1 3099.1ZM1381.5 3090.4L1385.1 3096.5L1381.5 3102.6L1377.9 3096.5ZM1394.3 3086.4L1397.9 3092.5L1394.3 3098.6L1390.7 3092.5ZM1407.2 3082.5L1410.8 3088.6L1407.2 3094.7L1403.6 3088.6ZM1420.0 3078.2L1423.6 3084.3L1420.0 3090.4L1416.4 3084.3ZM1432.8 3073.5L1436.4 3079.6L1432.8 3085.7L1429.2 3079.6ZM1445.6 3068.3L1449.2 3074.4L1445.6 3080.5L1442.0 3074.4ZM1458.5 3061.7L1462.1 3067.8L1458.5 3073.9L1454.9 3067.8ZM1471.3 3054.5L1474.9 3060.6L1471.3 3066.7L1467.7 3060.6ZM1484.1 3047.7L1487.7 3053.8L1484.1 3059.9L1480.5 3053.8ZM1496.9 3040.8L1500.5 3046.9L1496.9 3053.0L1493.3 3046.9ZM1509.8 3033.7L1513.4 3039.8L1509.8 3045.9L1506.2 3039.8ZM1522.6 3026.5L1526.2 3032.6L1522.6 3038.7L1519.0 3032.6ZM1535.4 3019.3L1539.0 3025.4L1535.4 3031.5L1531.8 3025.4ZM1548.2 3012.2L1551.8 3018.3L1548.2 3024.4L1544.6 3018.3ZM1561.1 3005.4L1564.7 3011.5L1561.1 3017.6L1557.5 3011.5ZM1573.9 2999.0L1577.5 3005.1L1573.9 3011.2L1570.3 3005.1ZM1586.7 2993.0L1590.3 2999.1L1586.7 3005.2L1583.1 2999.1ZM1599.5 2987.4L1603.1 2993.5L1599.5 2999.6L1595.9 2993.5ZM1612.4 2982.2L1616.0 2988.3L1612.4 2994.4L1608.8 2988.3ZM1625.2 2977.5L1628.8 2983.6L1625.2 2989.7L1621.6 2983.6ZM1638.0 2973.6L1641.6 2979.7L1638.0 2985.8L1634.4 2979.7ZM1650.8 2970.4L1654.4 2976.5L1650.8 2982.6L1647.2 2976.5ZM1663.7 2968.1L1667.3 2974.2L1663.7 2980.3L1660.1 2974.2ZM1676.5 2966.5L1680.1 2972.6L1676.5 2978.7L1672.9 2972.6ZM1689.3 2965.4L1692.9 2971.5L1689.3 2977.6L1685.7 2971.5ZM1702.1 2964.9L1705.7 2971.0L1702.1 2977.1L1698.5 2971.0ZM1715.0 2965.1L1718.6 2971.2L1715.0 2977.3L1711.4 2971.2ZM1727.8 2965.4L1731.4 2971.5L1727.8 2977.6L1724.2 2971.5ZM1740.6 2966.3L1744.2 2972.4L1740.6 2978.5L1737.0 2972.4ZM1753.4 2967.6L1757.0 2973.7L1753.4 2979.8L1749.8 2973.7ZM1766.3 2970.0L1769.9 2976.1L1766.3 2982.2L1762.7 2976.1ZM1779.1 2973.1L1782.7 2979.2L1779.1 2985.3L1775.5 2979.2ZM1791.9 2976.5L1795.5 2982.6L1791.9 2988.7L1788.3 2982.6ZM1804.7 2980.3L1808.3 2986.4L1804.7 2992.5L1801.1 2986.4ZM1817.6 2985.0L1821.2 2991.1L1817.6 2997.2L1814.0 2991.1ZM1830.4 2990.2L1834.0 2996.3L1830.4 3002.4L1826.8 2996.3ZM1843.2 2995.0L1846.8 3001.1L1843.2 3007.2L1839.6 3001.1ZM1856.0 3000.1L1859.6 3006.2L1856.0 3012.3L1852.4 3006.2ZM1868.9 3005.7L1872.5 3011.8L1868.9 3017.9L1865.3 3011.8ZM1881.7 3011.6L1885.3 3017.7L1881.7 3023.8L1878.1 3017.7ZM1894.5 3017.9L1898.1 3024.0L1894.5 3030.1L1890.9 3024.0ZM1907.3 3024.3L1910.9 3030.4L1907.3 3036.5L1903.7 3030.4ZM1920.2 3030.7L1923.8 3036.8L1920.2 3042.9L1916.6 3036.8ZM1933.0 3036.9L1936.6 3043.0L1933.0 3049.1L1929.4 3043.0ZM1945.8 3042.8L1949.4 3048.9L1945.8 3055.0L1942.2 3048.9ZM1958.6 3048.5L1962.2 3054.6L1958.6 3060.7L1955.0 3054.6ZM1971.5 3054.5L1975.1 3060.6L1971.5 3066.7L1967.9 3060.6ZM1984.3 3060.0L1987.9 3066.1L1984.3 3072.2L1980.7 3066.1ZM1997.1 3064.6L2000.7 3070.7L1997.1 3076.8L1993.5 3070.7ZM2009.9 3068.8L2013.5 3074.9L2009.9 3081.0L2006.3 3074.9ZM2022.8 3073.1L2026.4 3079.2L2022.8 3085.3L2019.2 3079.2ZM2035.6 3077.1L2039.2 3083.2L2035.6 3089.3L2032.0 3083.2ZM2048.4 3080.5L2052.0 3086.6L2048.4 3092.7L2044.8 3086.6ZM2061.2 3083.1L2064.8 3089.2L2061.2 3095.3L2057.6 3089.2ZM2074.1 3085.0L2077.7 3091.1L2074.1 3097.2L2070.5 3091.1ZM2086.9 3085.9L2090.5 3092.0L2086.9 3098.1L2083.3 3092.0ZM2099.7 3085.9L2103.3 3092.0L2099.7 3098.1L2096.1 3092.0ZM2112.5 3085.9L2116.1 3092.0L2112.5 3098.1L2108.9 3092.0ZM2125.4 3085.0L2129.0 3091.1L2125.4 3097.2L2121.8 3091.1ZM2138.2 3083.1L2141.8 3089.2L2138.2 3095.3L2134.6 3089.2Z" fill="#008000" stroke="#008000" stroke-width="1.5"/>
<polyline points="214.4,3392.8 227.2,3380.7 240.1,3428.0 252.9,3498.4 265.7,3502.2 278.5,3486.8 291.4,3489.0 304.2,3490.7 317.0,3454.4 329.8,3413.1 342.7,3398.8 355.5,3244.9 368.3,3090.9 381.1,3016.6 394.0,3081.0 406.8,3173.4 419.6,3250.9 432.4,3265.2 445.3,3221.2 458.1,3140.4 470.9,3071.1 483.7,3080.4 496.6,3140.4 509.4,3199.2 522.2,3199.8 535.0,3165.1 547.9,3135.4 560.7,3122.2 573.5,3121.7 586.3,3133.8 599.2,3149.7 612.0,3153.0 624.8,3133.8 637.6,3114.0 650.5,3104.1 663.3,3103.5 676.1,3101.9 688.9,3099.1 701.8,3092.0 714.6,3080.4 727.4,3067.8 740.2,3056.2 753.1,3049.1 765.9,3044.1 778.7,3037.5 791.5,3029.3 804.4,3017.7 817.2,3007.8 830.0,2999.6 842.8,2993.0 855.7,2986.9 868.5,2983.1 881.3,2979.8 894.1,2974.8 907.0,2970.4 919.8,2967.8 932.6,2966.6 945.4,2966.6 958.3,2966.6 971.1,2967.6 983.9,2969.9 996.7,2971.2 1009.6,2972.5 1022.4,2974.3 1035.2,2977.5 1048.0,2981.8 1060.9,2986.8 1073.7,2992.4 1086.5,2998.0 1099.3,3003.8 1112.2,3009.9 1125.0,3015.9 1137.8,3021.6 1150.6,3027.6 1163.5,3034.2 1176.3,3041.0 1189.1,3047.9 1202.0,3054.6 1214.8,3061.0 1227.6,3067.1 1240.4,3072.8 1253.3,3077.8 1266.1,3082.2 1278.9,3086.0 1291.7,3089.3 1304.6,3092.4 1317.4,3095.4 1330.2,3097.8 1343.0,3099.7 1355.9,3100.3 1368.7,3099.9 1381.5,3099.0 1394.3,3095.8 1407.2,3091.8 1420.0,3087.7 1432.8,3083.3 1445.6,3078.6 1458.5,3073.2 1471.3,3066.4 1484.1,3059.3 1496.9,3052.5 1509.8,3045.5 1522.6,3038.3 1535.4,3031.1 1548.2,3023.9 1561.1,3016.9 1573.9,3010.2 1586.7,3003.9 1599.5,2998.0 1612.4,2992.5 1625.2,2987.3 1638.0,2982.8 1650.8,2978.9 1663.7,2976.0 1676.5,2973.8 1689.3,2972.4 1702.1,2971.3 1715.0,2971.0 1727.8,2971.2 1740.6,2971.7 1753.4,2972.6 1766.3,2974.1 1779.1,2976.7 1791.9,2979.9 1804.7,2983.3 1817.6,2987.3 1830.4,2992.2 1843.2,2997.3 1856.0,3002.1 1868.9,3007.3 1881.7,3013.0 1894.5,3019.0 1907.3,3025.3 1920.2,3031.7 1933.0,3038.1 1945.8,3044.2 1958.6,3050.0 1971.5,3055.8 1984.3,3061.7 1997.1,3067.1 2009.9,3071.6 2022.8,3075.8 2035.6,3080.1 2048.4,3083.9 2061.2,3087.2 2074.1,3089.6 2086.9,3091.4 2099.7,3092.0 2112.5,3092.0 2125.4,3091.9 2138.2,3090.8" stroke="#ff00ff" stroke-width="3"/>
<polyline points="214.4,3397.7 227.2,3419.7 240.1,3411.5 252.9,3375.7 265.7,3299.8 278.5,3242.1 291.4,3229.5 304.2,3222.9 317.0,3184.4 329.8,3143.7 342.7,3143.7 355.5,3188.2 368.3,3257.5 381.1,3282.2 394.0,3247.6 406.8,3130.5 419.6,3040.8 432.4,3048.0 445.3,3140.4 458.1,3217.9 470.9,3296.0 483.7,3251.5 496.6,3138.7 509.4,3043.0 522.2,3037.5 535.0,3095.8 547.9,3188.2 560.7,3241.0 573.5,3237.2 586.3,3176.7 599.2,3105.7 612.0,3059.0 624.8,3062.3 637.6,3102.4 650.5,3135.4 663.3,3158.0 676.1,3147.5 688.9,3106.3 701.8,3065.0 714.6,3037.5 727.4,3029.8 740.2,3042.5 753.1,3054.0 765.9,3060.6 778.7,3052.4 791.5,3032.6 804.4,3006.2 817.2,2988.0 830.0,2979.8 842.8,2980.3 855.7,2985.3 868.5,2989.7 881.3,2989.7 894.1,2982.0 907.0,2971.5 919.8,2961.6 932.6,2956.1 945.4,2960.1 958.3,2966.6 971.1,2972.8 983.9,2976.5 996.7,2976.5 1009.6,2976.5 1022.4,2977.0 1035.2,2978.1 1048.0,2981.8 1060.9,2987.5 1073.7,2994.3 1086.5,3001.8 1099.3,3008.9 1112.2,3016.1 1125.0,3020.6 1137.8,3023.7 1150.6,3027.0 1163.5,3031.9 1176.3,3038.3 1189.1,3046.1 1202.0,3054.4 1214.8,3062.4 1227.6,3069.5 1240.4,3075.4 1253.3,3079.8 1266.1,3083.2 1278.9,3085.9 1291.7,3088.5 1304.6,3091.4 1317.4,3094.8 1330.2,3097.7 1343.0,3100.1 1355.9,3101.0 1368.7,3100.6 1381.5,3099.3 1394.3,3095.5 1407.2,3091.2 1420.0,3086.9 1432.8,3082.4 1445.6,3077.8 1458.5,3072.4 1471.3,3065.7 1484.1,3058.9 1496.9,3052.1 1509.8,3045.0 1522.6,3037.7 1535.4,3030.4 1548.2,3023.0 1561.1,3016.0 1573.9,3009.4 1586.7,3003.2 1599.5,2997.4 1612.4,2992.1 1625.2,2986.9 1638.0,2982.5 1650.8,2978.6 1663.7,2975.7 1676.5,2973.6 1689.3,2972.2 1702.1,2971.2 1715.0,2971.0 1727.8,2971.3 1740.6,2971.8 1753.4,2972.8 1766.3,2974.3 1779.1,2977.0 1791.9,2980.2 1804.7,2983.6 1817.6,2987.7 1830.4,2992.7 1843.2,2997.8 1856.0,3002.6 1868.9,3007.8 1881.7,3013.6 1894.5,3019.6 1907.3,3025.9 1920.2,3032.3 1933.0,3038.7 1945.8,3044.8 1958.6,3050.6 1971.5,3056.3 1984.3,3062.3 1997.1,3067.6 2009.9,3072.0 2022.8,3076.2 2035.6,3080.5 2048.4,3084.2 2061.2,3087.5 2074.1,3089.8 2086.9,3091.5 2099.7,3092.0 2112.5,3092.0 2125.4,3091.9 2138.2,3090.6" stroke="#d95319" stroke-width="3"/>
<polyline points="214.4,3589.7 227.2,3489.0 240.1,3388.4 252.9,3289.9 265.7,3184.9 278.5,3115.6 291.4,3097.5 304.2,3089.2 317.0,3054.6 329.8,3014.4 342.7,3009.5 355.5,3105.7 368.3,3202.5 381.1,3297.6 394.0,3264.1 406.8,3204.7 419.6,3128.8 432.4,3092.5 445.3,3102.4 458.1,3135.4 470.9,3160.2 483.7,3166.2 496.6,3166.8 509.4,3167.9 522.2,3166.2 535.0,3156.9 547.9,3142.0 560.7,3127.2 573.5,3115.6 586.3,3118.9 599.2,3133.8 612.0,3148.6 624.8,3153.6 637.6,3138.7 650.5,3115.6 663.3,3087.6 676.1,3072.2 688.9,3072.2 701.8,3080.4 714.6,3088.7 727.4,3085.4 740.2,3070.5 753.1,3047.4 765.9,3024.3 778.7,3011.1 791.5,3008.4 804.4,3011.1 817.2,3013.3 830.0,3011.1 842.8,3001.2 855.7,2988.0 868.5,2974.8 881.3,2966.6 894.1,2965.5 907.0,2968.2 919.8,2971.7 932.6,2973.7 945.4,2972.4 958.3,2969.9 971.1,2966.0 983.9,2963.3 996.7,2965.1 1009.6,2970.4 1022.4,2974.3 1035.2,2979.4 1048.0,2984.8 1060.9,2990.1 1073.7,2995.0 1086.5,2999.5 1099.3,3004.3 1112.2,3009.9 1125.0,3015.7 1137.8,3021.9 1150.6,3028.7 1163.5,3036.0 1176.3,3043.1 1189.1,3050.0 1202.0,3056.4 1214.8,3062.4 1227.6,3068.0 1240.4,3073.4 1253.3,3078.3 1266.1,3082.7 1278.9,3086.6 1291.7,3090.1 1304.6,3093.3 1317.4,3096.3 1330.2,3098.4 1343.0,3100.0 1355.9,3100.2 1368.7,3099.6 1381.5,3098.3 1394.3,3094.8 1407.2,3090.9 1420.0,3086.9 1432.8,3082.5 1445.6,3077.7 1458.5,3072.0 1471.3,3064.9 1484.1,3057.9 1496.9,3051.0 1509.8,3044.0 1522.6,3036.9 1535.4,3029.7 1548.2,3022.5 1561.1,3015.6 1573.9,3008.9 1586.7,3002.7 1599.5,2996.8 1612.4,2991.4 1625.2,2986.3 1638.0,2982.0 1650.8,2978.2 1663.7,2975.5 1676.5,2973.5 1689.3,2972.2 1702.1,2971.2 1715.0,2971.0 1727.8,2971.3 1740.6,2971.8 1753.4,2972.9 1766.3,2974.5 1779.1,2977.3 1791.9,2980.5 1804.7,2984.0 1817.6,2988.2 1830.4,2993.2 1843.2,2998.3 1856.0,3003.1 1868.9,3008.4 1881.7,3014.1 1894.5,3020.2 1907.3,3026.6 1920.2,3032.9 1933.0,3039.3 1945.8,3045.4 1958.6,3051.2 1971.5,3056.9 1984.3,3062.9 1997.1,3068.1 2009.9,3072.4 2022.8,3076.7 2035.6,3080.9 2048.4,3084.6 2061.2,3087.8 2074.1,3090.0 2086.9,3091.6 2099.7,3092.0 2112.5,3092.0 2125.4,3091.8 2138.2,3090.4" stroke="#0072bd" stroke-width="3"/>
</g>
<rect x="214.4" y="2947.9" width="1923.7999999999997" height="659.9000000000001" fill="none" stroke="#262626" stroke-width="2"/>
<path d="M855.7 3607.8V3588.3M855.7 2947.9V2967.4M1496.9 3607.8V3588.3M1496.9 2947.9V2967.4M214.4 3497.8H233.9M2138.2 3497.8H2118.7M214.4 3387.8H233.9M2138.2 3387.8H2118.7M214.4 3277.9H233.9M2138.2 3277.9H2118.7M214.4 3167.9H233.9M2138.2 3167.9H2118.7M214.4 3057.9H233.9M2138.2 3057.9H2118.7" stroke="#262626" stroke-width="2" fill="none"/>
<text x="214.4" y="3673.3" text-anchor="middle" class="t">0</text>
<text x="855.7" y="3673.3" text-anchor="middle" class="t">50</text>
<text x="1496.9" y="3673.3" text-anchor="middle" class="t">100</text>
<text x="2138.2" y="3673.3" text-anchor="middle" class="t">150</text>
<text x="197.4" y="3624.8" text-anchor="end" class="t">-2</text>
<text x="197.4" y="3514.8" text-anchor="end" class="t">0</text>
<text x="197.4" y="3404.8" text-anchor="end" class="t">2</text>
<text x="197.4" y="3294.9" text-anchor="end" class="t">4</text>
<text x="197.4" y="3184.9" text-anchor="end" class="t">6</text>
<text x="197.4" y="3074.9" text-anchor="end" class="t">8</text>
<text x="197.4" y="2964.9" text-anchor="end" class="t">10</text>
<text x="1176.3" y="3737.3" text-anchor="middle" class="t">Time (k)</text>
<text transform="translate(55.1,3280.9) rotate(-90)" text-anchor="middle" class="t">State trajectories of TSFDCNs</text>
<text transform="translate(121.1,3273.9) rotate(-90)" text-anchor="middle" class="t">for n=2</text>
<rect x="1728.7" y="3316" width="381.6" height="264.0" fill="#ffffff" stroke="#262626" stroke-width="2"/>
<line x1="1740.0" y1="3352.0" x2="1843.2" y2="3352.0" stroke="#008000" stroke-width="3.6"/>
<path d="M1791.6 3345.9L1795.2 3352.0L1791.6 3358.1L1788.0 3352.0Z" fill="#008000" stroke="#008000" stroke-width="1.5"/>
<text x="1852.7" y="3371.0" class="lg">target node</text>
<line x1="1740.0" y1="3415.3" x2="1843.2" y2="3415.3" stroke="#ff00ff" stroke-width="3.6"/>
<text x="1852.7" y="3434.3" class="lg">node1</text>
<line x1="1740.0" y1="3478.6" x2="1843.2" y2="3478.6" stroke="#d95319" stroke-width="3.6"/>
<text x="1852.7" y="3497.6" class="lg">node2</text>
<line x1="1740.0" y1="3541.9" x2="1843.2" y2="3541.9" stroke="#0072bd" stroke-width="3.6"/>
<text x="1852.7" y="3560.9" class="lg">node3</text>
<text x="1113.5" y="1879" text-anchor="middle" class="cap"><tspan class="par">(</tspan>a<tspan class="par">)</tspan></text>
<text x="1105" y="3860.6" text-anchor="middle" class="cap"><tspan class="par">(</tspan>b<tspan class="par">)</tspan></text>
</svg>
</body></html>
